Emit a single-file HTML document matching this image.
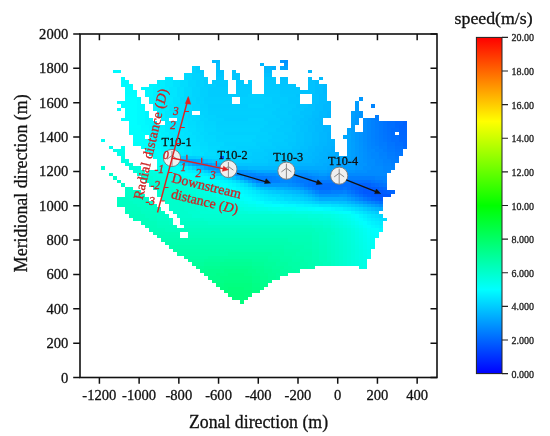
<!DOCTYPE html>
<html><head><meta charset="utf-8"><style>
html,body{margin:0;padding:0;background:#fff;}
svg{display:block;}
text{font-family:"Liberation Serif","Times New Roman",serif;stroke-width:0.3px;}
</style></head><body>
<svg width="550" height="436" viewBox="0 0 550 436">
<defs>
<linearGradient id="cb" x1="0" y1="1" x2="0" y2="0">
<stop offset="0" stop-color="#0000ff"/><stop offset="0.25" stop-color="#00ffff"/>
<stop offset="0.5" stop-color="#00ff00"/><stop offset="0.75" stop-color="#ffff00"/>
<stop offset="1" stop-color="#ff0000"/>
</linearGradient>
</defs>
<g shape-rendering="crispEdges"><rect x="212.25" y="59.5" width="7.94" height="3.44" fill="#00bbff"/><rect x="279.74" y="59.5" width="3.97" height="3.44" fill="#0096ff"/><rect x="283.71" y="59.5" width="3.97" height="3.44" fill="#0090ff"/><rect x="216.22" y="62.94" width="3.97" height="3.44" fill="#00bfff"/><rect x="259.89" y="62.94" width="3.97" height="3.44" fill="#00b5ff"/><rect x="283.71" y="62.94" width="3.97" height="3.44" fill="#0099ff"/><rect x="192.4" y="66.38" width="3.97" height="3.44" fill="#00d4ff"/><rect x="196.37" y="66.38" width="3.97" height="3.44" fill="#00cfff"/><rect x="216.22" y="66.38" width="3.97" height="3.44" fill="#00c2ff"/><rect x="263.86" y="66.38" width="7.94" height="3.44" fill="#00b7ff"/><rect x="271.8" y="66.38" width="3.97" height="3.44" fill="#00b0ff"/><rect x="279.74" y="66.38" width="3.97" height="3.44" fill="#00a7ff"/><rect x="283.71" y="66.38" width="3.97" height="3.44" fill="#00a2ff"/><rect x="113" y="69.82" width="7.94" height="3.44" fill="#00faff"/><rect x="192.4" y="69.82" width="3.97" height="3.44" fill="#00d4ff"/><rect x="196.37" y="69.82" width="3.97" height="3.44" fill="#00d0ff"/><rect x="200.34" y="69.82" width="3.97" height="3.44" fill="#00cbff"/><rect x="216.22" y="69.82" width="7.94" height="3.44" fill="#00c4ff"/><rect x="232.1" y="69.82" width="3.97" height="3.44" fill="#00c4ff"/><rect x="263.86" y="69.82" width="7.94" height="3.44" fill="#00bcff"/><rect x="307.53" y="69.82" width="3.97" height="3.44" fill="#00b7ff"/><rect x="184.46" y="73.26" width="7.94" height="3.44" fill="#00daff"/><rect x="192.4" y="73.26" width="7.94" height="3.44" fill="#00d4ff"/><rect x="200.34" y="73.26" width="3.97" height="3.44" fill="#00cdff"/><rect x="216.22" y="73.26" width="7.94" height="3.44" fill="#00c6ff"/><rect x="232.1" y="73.26" width="7.94" height="3.44" fill="#00c6ff"/><rect x="263.86" y="73.26" width="7.94" height="3.44" fill="#00c1ff"/><rect x="120.94" y="76.7" width="3.97" height="3.44" fill="#00faff"/><rect x="164.61" y="76.7" width="7.94" height="3.44" fill="#00e8ff"/><rect x="184.46" y="76.7" width="7.94" height="3.44" fill="#00d9ff"/><rect x="192.4" y="76.7" width="7.94" height="3.44" fill="#00d4ff"/><rect x="200.34" y="76.7" width="7.94" height="3.44" fill="#00cfff"/><rect x="216.22" y="76.7" width="7.94" height="3.44" fill="#00c9ff"/><rect x="232.1" y="76.7" width="7.94" height="3.44" fill="#00c7ff"/><rect x="263.86" y="76.7" width="11.91" height="3.44" fill="#00c6ff"/><rect x="279.74" y="76.7" width="7.94" height="3.44" fill="#00c0ff"/><rect x="307.53" y="76.7" width="3.97" height="3.44" fill="#00c0ff"/><rect x="319.44" y="76.7" width="3.97" height="3.44" fill="#00bbff"/><rect x="120.94" y="80.14" width="7.94" height="3.44" fill="#00faff"/><rect x="156.67" y="80.14" width="7.94" height="3.44" fill="#00eeff"/><rect x="164.61" y="80.14" width="7.94" height="3.44" fill="#00e8ff"/><rect x="172.55" y="80.14" width="7.94" height="3.44" fill="#00e2ff"/><rect x="180.49" y="80.14" width="7.94" height="3.44" fill="#00dcff"/><rect x="188.43" y="80.14" width="7.94" height="3.44" fill="#00d6ff"/><rect x="196.37" y="80.14" width="7.94" height="3.44" fill="#00d2ff"/><rect x="204.31" y="80.14" width="3.97" height="3.44" fill="#00ceff"/><rect x="212.25" y="80.14" width="15.88" height="3.44" fill="#00cbff"/><rect x="236.07" y="80.14" width="7.94" height="3.44" fill="#00c9ff"/><rect x="247.98" y="80.14" width="3.97" height="3.44" fill="#00ccff"/><rect x="263.86" y="80.14" width="11.91" height="3.44" fill="#00c8ff"/><rect x="279.74" y="80.14" width="7.94" height="3.44" fill="#00c4ff"/><rect x="307.53" y="80.14" width="7.94" height="3.44" fill="#00c2ff"/><rect x="315.47" y="80.14" width="3.97" height="3.44" fill="#00beff"/><rect x="120.94" y="83.58" width="11.91" height="3.44" fill="#00fbff"/><rect x="148.73" y="83.58" width="7.94" height="3.44" fill="#00f4ff"/><rect x="156.67" y="83.58" width="7.94" height="3.44" fill="#00eeff"/><rect x="164.61" y="83.58" width="7.94" height="3.44" fill="#00e8ff"/><rect x="172.55" y="83.58" width="7.94" height="3.44" fill="#00e2ff"/><rect x="180.49" y="83.58" width="7.94" height="3.44" fill="#00dcff"/><rect x="188.43" y="83.58" width="7.94" height="3.44" fill="#00d6ff"/><rect x="196.37" y="83.58" width="7.94" height="3.44" fill="#00d2ff"/><rect x="204.31" y="83.58" width="11.91" height="3.44" fill="#00ceff"/><rect x="216.22" y="83.58" width="11.91" height="3.44" fill="#00caff"/><rect x="236.07" y="83.58" width="15.88" height="3.44" fill="#00caff"/><rect x="263.86" y="83.58" width="15.88" height="3.44" fill="#00c9ff"/><rect x="279.74" y="83.58" width="15.88" height="3.44" fill="#00c5ff"/><rect x="307.53" y="83.58" width="7.94" height="3.44" fill="#00c2ff"/><rect x="315.47" y="83.58" width="7.94" height="3.44" fill="#00beff"/><rect x="323.41" y="83.58" width="3.97" height="3.44" fill="#00baff"/><rect x="124.91" y="87.02" width="7.94" height="3.44" fill="#00fcff"/><rect x="140.79" y="87.02" width="11.91" height="3.44" fill="#00f7ff"/><rect x="152.7" y="87.02" width="7.94" height="3.44" fill="#00f1ff"/><rect x="160.64" y="87.02" width="7.94" height="3.44" fill="#00ebff"/><rect x="168.58" y="87.02" width="7.94" height="3.44" fill="#00e5ff"/><rect x="176.52" y="87.02" width="7.94" height="3.44" fill="#00dfff"/><rect x="184.46" y="87.02" width="7.94" height="3.44" fill="#00d9ff"/><rect x="192.4" y="87.02" width="7.94" height="3.44" fill="#00d4ff"/><rect x="200.34" y="87.02" width="7.94" height="3.44" fill="#00d0ff"/><rect x="208.28" y="87.02" width="19.85" height="3.44" fill="#00ccff"/><rect x="236.07" y="87.02" width="15.88" height="3.44" fill="#00cbff"/><rect x="263.86" y="87.02" width="15.88" height="3.44" fill="#00caff"/><rect x="279.74" y="87.02" width="19.85" height="3.44" fill="#00c6ff"/><rect x="307.53" y="87.02" width="7.94" height="3.44" fill="#00c2ff"/><rect x="315.47" y="87.02" width="7.94" height="3.44" fill="#00beff"/><rect x="323.41" y="87.02" width="3.97" height="3.44" fill="#00baff"/><rect x="124.91" y="90.46" width="11.91" height="3.44" fill="#00fdff"/><rect x="144.76" y="90.46" width="7.94" height="3.44" fill="#00f6ff"/><rect x="152.7" y="90.46" width="7.94" height="3.44" fill="#00f1ff"/><rect x="160.64" y="90.46" width="7.94" height="3.44" fill="#00ebff"/><rect x="168.58" y="90.46" width="7.94" height="3.44" fill="#00e5ff"/><rect x="176.52" y="90.46" width="7.94" height="3.44" fill="#00dfff"/><rect x="184.46" y="90.46" width="7.94" height="3.44" fill="#00d9ff"/><rect x="192.4" y="90.46" width="7.94" height="3.44" fill="#00d4ff"/><rect x="200.34" y="90.46" width="7.94" height="3.44" fill="#00d0ff"/><rect x="208.28" y="90.46" width="19.85" height="3.44" fill="#00ccff"/><rect x="236.07" y="90.46" width="15.88" height="3.44" fill="#00ccff"/><rect x="263.86" y="90.46" width="15.88" height="3.44" fill="#00cbff"/><rect x="279.74" y="90.46" width="19.85" height="3.44" fill="#00c7ff"/><rect x="299.59" y="90.46" width="15.88" height="3.44" fill="#00c3ff"/><rect x="315.47" y="90.46" width="7.94" height="3.44" fill="#00beff"/><rect x="323.41" y="90.46" width="3.97" height="3.44" fill="#00baff"/><rect x="124.91" y="93.9" width="11.91" height="3.44" fill="#00feff"/><rect x="144.76" y="93.9" width="7.94" height="3.44" fill="#00f6ff"/><rect x="152.7" y="93.9" width="7.94" height="3.44" fill="#00f1ff"/><rect x="160.64" y="93.9" width="7.94" height="3.44" fill="#00ebff"/><rect x="168.58" y="93.9" width="7.94" height="3.44" fill="#00e5ff"/><rect x="176.52" y="93.9" width="7.94" height="3.44" fill="#00dfff"/><rect x="184.46" y="93.9" width="7.94" height="3.44" fill="#00d9ff"/><rect x="192.4" y="93.9" width="7.94" height="3.44" fill="#00d4ff"/><rect x="200.34" y="93.9" width="7.94" height="3.44" fill="#00d0ff"/><rect x="208.28" y="93.9" width="39.7" height="3.44" fill="#00ccff"/><rect x="247.98" y="93.9" width="15.88" height="3.44" fill="#00d0ff"/><rect x="263.86" y="93.9" width="15.88" height="3.44" fill="#00ccff"/><rect x="279.74" y="93.9" width="15.88" height="3.44" fill="#00c8ff"/><rect x="295.62" y="93.9" width="3.97" height="3.44" fill="#00c4ff"/><rect x="311.5" y="93.9" width="7.94" height="3.44" fill="#00c0ff"/><rect x="319.44" y="93.9" width="7.94" height="3.44" fill="#00bcff"/><rect x="124.91" y="97.34" width="11.91" height="3.44" fill="#00ffff"/><rect x="136.82" y="97.34" width="3.97" height="3.44" fill="#00faff"/><rect x="148.73" y="97.34" width="7.94" height="3.44" fill="#00f4ff"/><rect x="156.67" y="97.34" width="7.94" height="3.44" fill="#00eeff"/><rect x="164.61" y="97.34" width="7.94" height="3.44" fill="#00e8ff"/><rect x="172.55" y="97.34" width="7.94" height="3.44" fill="#00e2ff"/><rect x="180.49" y="97.34" width="7.94" height="3.44" fill="#00dcff"/><rect x="188.43" y="97.34" width="7.94" height="3.44" fill="#00d6ff"/><rect x="196.37" y="97.34" width="7.94" height="3.44" fill="#00d2ff"/><rect x="204.31" y="97.34" width="27.79" height="3.44" fill="#00ceff"/><rect x="240.04" y="97.34" width="31.76" height="3.44" fill="#00cfff"/><rect x="271.8" y="97.34" width="15.88" height="3.44" fill="#00cbff"/><rect x="287.68" y="97.34" width="11.91" height="3.44" fill="#00c7ff"/><rect x="311.5" y="97.34" width="7.94" height="3.44" fill="#00c0ff"/><rect x="319.44" y="97.34" width="7.94" height="3.44" fill="#00bcff"/><rect x="359.14" y="97.34" width="3.97" height="3.44" fill="#0097ff"/><rect x="116.97" y="100.78" width="19.85" height="3.44" fill="#00ffff"/><rect x="136.82" y="100.78" width="3.97" height="3.44" fill="#00fbff"/><rect x="148.73" y="100.78" width="7.94" height="3.44" fill="#00f4ff"/><rect x="156.67" y="100.78" width="7.94" height="3.44" fill="#00eeff"/><rect x="164.61" y="100.78" width="7.94" height="3.44" fill="#00e8ff"/><rect x="172.55" y="100.78" width="7.94" height="3.44" fill="#00e2ff"/><rect x="180.49" y="100.78" width="7.94" height="3.44" fill="#00dcff"/><rect x="188.43" y="100.78" width="7.94" height="3.44" fill="#00d7ff"/><rect x="196.37" y="100.78" width="7.94" height="3.44" fill="#00d3ff"/><rect x="204.31" y="100.78" width="27.79" height="3.44" fill="#00cfff"/><rect x="240.04" y="100.78" width="31.76" height="3.44" fill="#00cfff"/><rect x="271.8" y="100.78" width="15.88" height="3.44" fill="#00cbff"/><rect x="287.68" y="100.78" width="11.91" height="3.44" fill="#00c7ff"/><rect x="311.5" y="100.78" width="7.94" height="3.44" fill="#00bfff"/><rect x="319.44" y="100.78" width="7.94" height="3.44" fill="#00bbff"/><rect x="327.38" y="100.78" width="3.97" height="3.44" fill="#00b7ff"/><rect x="355.17" y="100.78" width="3.97" height="3.44" fill="#009dff"/><rect x="120.94" y="104.22" width="15.88" height="3.44" fill="#00ffff"/><rect x="136.82" y="104.22" width="7.94" height="3.44" fill="#00fbff"/><rect x="152.7" y="104.22" width="7.94" height="3.44" fill="#00f1ff"/><rect x="160.64" y="104.22" width="7.94" height="3.44" fill="#00ebff"/><rect x="168.58" y="104.22" width="7.94" height="3.44" fill="#00e5ff"/><rect x="176.52" y="104.22" width="7.94" height="3.44" fill="#00e0ff"/><rect x="184.46" y="104.22" width="7.94" height="3.44" fill="#00daff"/><rect x="192.4" y="104.22" width="7.94" height="3.44" fill="#00d5ff"/><rect x="200.34" y="104.22" width="7.94" height="3.44" fill="#00d1ff"/><rect x="208.28" y="104.22" width="39.7" height="3.44" fill="#00cdff"/><rect x="247.98" y="104.22" width="15.88" height="3.44" fill="#00d1ff"/><rect x="263.86" y="104.22" width="15.88" height="3.44" fill="#00cdff"/><rect x="279.74" y="104.22" width="15.88" height="3.44" fill="#00c9ff"/><rect x="295.62" y="104.22" width="11.91" height="3.44" fill="#00c4ff"/><rect x="307.53" y="104.22" width="7.94" height="3.44" fill="#00c0ff"/><rect x="315.47" y="104.22" width="7.94" height="3.44" fill="#00bcff"/><rect x="323.41" y="104.22" width="7.94" height="3.44" fill="#00b8ff"/><rect x="355.17" y="104.22" width="3.97" height="3.44" fill="#009cff"/><rect x="371.05" y="104.22" width="3.97" height="3.44" fill="#0084ff"/><rect x="116.97" y="107.66" width="3.97" height="3.44" fill="#00ffff"/><rect x="124.91" y="107.66" width="11.91" height="3.44" fill="#00ffff"/><rect x="136.82" y="107.66" width="7.94" height="3.44" fill="#00fbff"/><rect x="152.7" y="107.66" width="7.94" height="3.44" fill="#00f1ff"/><rect x="160.64" y="107.66" width="7.94" height="3.44" fill="#00ebff"/><rect x="168.58" y="107.66" width="7.94" height="3.44" fill="#00e5ff"/><rect x="176.52" y="107.66" width="7.94" height="3.44" fill="#00e0ff"/><rect x="184.46" y="107.66" width="7.94" height="3.44" fill="#00dbff"/><rect x="192.4" y="107.66" width="7.94" height="3.44" fill="#00d6ff"/><rect x="200.34" y="107.66" width="7.94" height="3.44" fill="#00d2ff"/><rect x="208.28" y="107.66" width="67.49" height="3.44" fill="#00ceff"/><rect x="275.77" y="107.66" width="15.88" height="3.44" fill="#00caff"/><rect x="291.65" y="107.66" width="11.91" height="3.44" fill="#00c6ff"/><rect x="303.56" y="107.66" width="11.91" height="3.44" fill="#00c1ff"/><rect x="315.47" y="107.66" width="7.94" height="3.44" fill="#00bcff"/><rect x="323.41" y="107.66" width="7.94" height="3.44" fill="#00b8ff"/><rect x="355.17" y="107.66" width="3.97" height="3.44" fill="#009bff"/><rect x="124.91" y="111.1" width="11.91" height="3.44" fill="#00ffff"/><rect x="136.82" y="111.1" width="7.94" height="3.44" fill="#00fbff"/><rect x="144.76" y="111.1" width="3.97" height="3.44" fill="#00f6ff"/><rect x="156.67" y="111.1" width="7.94" height="3.44" fill="#00eeff"/><rect x="164.61" y="111.1" width="7.94" height="3.44" fill="#00e8ff"/><rect x="172.55" y="111.1" width="7.94" height="3.44" fill="#00e3ff"/><rect x="180.49" y="111.1" width="7.94" height="3.44" fill="#00deff"/><rect x="188.43" y="111.1" width="3.97" height="3.44" fill="#00d9ff"/><rect x="200.34" y="111.1" width="7.94" height="3.44" fill="#00d3ff"/><rect x="208.28" y="111.1" width="63.52" height="3.44" fill="#00cfff"/><rect x="271.8" y="111.1" width="15.88" height="3.44" fill="#00cbff"/><rect x="287.68" y="111.1" width="11.91" height="3.44" fill="#00c7ff"/><rect x="299.59" y="111.1" width="11.91" height="3.44" fill="#00c2ff"/><rect x="311.5" y="111.1" width="7.94" height="3.44" fill="#00bdff"/><rect x="319.44" y="111.1" width="7.94" height="3.44" fill="#00b9ff"/><rect x="327.38" y="111.1" width="3.97" height="3.44" fill="#00b5ff"/><rect x="351.2" y="111.1" width="3.97" height="3.44" fill="#00a0ff"/><rect x="355.17" y="111.1" width="3.97" height="3.44" fill="#009aff"/><rect x="359.14" y="111.1" width="3.97" height="3.44" fill="#0094ff"/><rect x="124.91" y="114.54" width="11.91" height="3.44" fill="#00ffff"/><rect x="136.82" y="114.54" width="7.94" height="3.44" fill="#00fbff"/><rect x="144.76" y="114.54" width="3.97" height="3.44" fill="#00f6ff"/><rect x="156.67" y="114.54" width="7.94" height="3.44" fill="#00eeff"/><rect x="164.61" y="114.54" width="7.94" height="3.44" fill="#00e8ff"/><rect x="172.55" y="114.54" width="7.94" height="3.44" fill="#00e3ff"/><rect x="180.49" y="114.54" width="7.94" height="3.44" fill="#00dfff"/><rect x="188.43" y="114.54" width="7.94" height="3.44" fill="#00daff"/><rect x="196.37" y="114.54" width="7.94" height="3.44" fill="#00d6ff"/><rect x="204.31" y="114.54" width="11.91" height="3.44" fill="#00d2ff"/><rect x="216.22" y="114.54" width="59.55" height="3.44" fill="#00ceff"/><rect x="275.77" y="114.54" width="15.88" height="3.44" fill="#00caff"/><rect x="291.65" y="114.54" width="11.91" height="3.44" fill="#00c5ff"/><rect x="303.56" y="114.54" width="7.94" height="3.44" fill="#00c0ff"/><rect x="311.5" y="114.54" width="7.94" height="3.44" fill="#00bcff"/><rect x="319.44" y="114.54" width="7.94" height="3.44" fill="#00b8ff"/><rect x="327.38" y="114.54" width="3.97" height="3.44" fill="#00b4ff"/><rect x="351.2" y="114.54" width="3.97" height="3.44" fill="#009fff"/><rect x="355.17" y="114.54" width="3.97" height="3.44" fill="#0099ff"/><rect x="359.14" y="114.54" width="3.97" height="3.44" fill="#0093ff"/><rect x="375.02" y="114.54" width="3.97" height="3.44" fill="#007dff"/><rect x="120.94" y="117.98" width="15.88" height="3.44" fill="#00ffff"/><rect x="136.82" y="117.98" width="7.94" height="3.44" fill="#00fbff"/><rect x="144.76" y="117.98" width="7.94" height="3.44" fill="#00f6ff"/><rect x="160.64" y="117.98" width="7.94" height="3.44" fill="#00ebff"/><rect x="176.52" y="117.98" width="7.94" height="3.44" fill="#00e1ff"/><rect x="184.46" y="117.98" width="7.94" height="3.44" fill="#00ddff"/><rect x="192.4" y="117.98" width="7.94" height="3.44" fill="#00d9ff"/><rect x="200.34" y="117.98" width="7.94" height="3.44" fill="#00d5ff"/><rect x="208.28" y="117.98" width="15.88" height="3.44" fill="#00d1ff"/><rect x="224.16" y="117.98" width="23.82" height="3.44" fill="#00cdff"/><rect x="247.98" y="117.98" width="15.88" height="3.44" fill="#00d1ff"/><rect x="263.86" y="117.98" width="15.88" height="3.44" fill="#00cdff"/><rect x="279.74" y="117.98" width="11.91" height="3.44" fill="#00c9ff"/><rect x="291.65" y="117.98" width="7.94" height="3.44" fill="#00c5ff"/><rect x="299.59" y="117.98" width="7.94" height="3.44" fill="#00c1ff"/><rect x="307.53" y="117.98" width="7.94" height="3.44" fill="#00bdff"/><rect x="315.47" y="117.98" width="7.94" height="3.44" fill="#00b9ff"/><rect x="351.2" y="117.98" width="3.97" height="3.44" fill="#009eff"/><rect x="355.17" y="117.98" width="3.97" height="3.44" fill="#0098ff"/><rect x="363.11" y="117.98" width="3.97" height="3.44" fill="#008cff"/><rect x="367.08" y="117.98" width="3.97" height="3.44" fill="#0086ff"/><rect x="371.05" y="117.98" width="3.97" height="3.44" fill="#0081ff"/><rect x="375.02" y="117.98" width="3.97" height="3.44" fill="#007cff"/><rect x="128.88" y="121.42" width="7.94" height="3.44" fill="#00ffff"/><rect x="136.82" y="121.42" width="7.94" height="3.44" fill="#00fbff"/><rect x="144.76" y="121.42" width="7.94" height="3.44" fill="#00f7ff"/><rect x="152.7" y="121.42" width="3.97" height="3.44" fill="#00f2ff"/><rect x="164.61" y="121.42" width="7.94" height="3.44" fill="#00e9ff"/><rect x="172.55" y="121.42" width="7.94" height="3.44" fill="#00e4ff"/><rect x="180.49" y="121.42" width="7.94" height="3.44" fill="#00e0ff"/><rect x="188.43" y="121.42" width="7.94" height="3.44" fill="#00dcff"/><rect x="196.37" y="121.42" width="7.94" height="3.44" fill="#00d8ff"/><rect x="204.31" y="121.42" width="11.91" height="3.44" fill="#00d4ff"/><rect x="216.22" y="121.42" width="51.61" height="3.44" fill="#00d0ff"/><rect x="267.83" y="121.42" width="15.88" height="3.44" fill="#00ccff"/><rect x="283.71" y="121.42" width="11.91" height="3.44" fill="#00c8ff"/><rect x="295.62" y="121.42" width="7.94" height="3.44" fill="#00c3ff"/><rect x="303.56" y="121.42" width="7.94" height="3.44" fill="#00bfff"/><rect x="311.5" y="121.42" width="7.94" height="3.44" fill="#00bbff"/><rect x="319.44" y="121.42" width="3.97" height="3.44" fill="#00b7ff"/><rect x="351.2" y="121.42" width="3.97" height="3.44" fill="#009eff"/><rect x="355.17" y="121.42" width="3.97" height="3.44" fill="#0098ff"/><rect x="363.11" y="121.42" width="3.97" height="3.44" fill="#008cff"/><rect x="367.08" y="121.42" width="3.97" height="3.44" fill="#0086ff"/><rect x="371.05" y="121.42" width="3.97" height="3.44" fill="#0081ff"/><rect x="375.02" y="121.42" width="3.97" height="3.44" fill="#007cff"/><rect x="378.99" y="121.42" width="3.97" height="3.44" fill="#0077ff"/><rect x="382.96" y="121.42" width="3.97" height="3.44" fill="#0072ff"/><rect x="386.93" y="121.42" width="7.94" height="3.44" fill="#006dff"/><rect x="394.87" y="121.42" width="7.94" height="3.44" fill="#0067ff"/><rect x="402.81" y="121.42" width="3.97" height="3.44" fill="#0061ff"/><rect x="128.88" y="124.86" width="11.91" height="3.44" fill="#00fffe"/><rect x="140.79" y="124.86" width="7.94" height="3.44" fill="#00faff"/><rect x="148.73" y="124.86" width="7.94" height="3.44" fill="#00f6ff"/><rect x="156.67" y="124.86" width="7.94" height="3.44" fill="#00f0ff"/><rect x="164.61" y="124.86" width="7.94" height="3.44" fill="#00eaff"/><rect x="172.55" y="124.86" width="7.94" height="3.44" fill="#00e5ff"/><rect x="180.49" y="124.86" width="7.94" height="3.44" fill="#00e1ff"/><rect x="188.43" y="124.86" width="7.94" height="3.44" fill="#00ddff"/><rect x="196.37" y="124.86" width="7.94" height="3.44" fill="#00d9ff"/><rect x="204.31" y="124.86" width="11.91" height="3.44" fill="#00d5ff"/><rect x="216.22" y="124.86" width="47.64" height="3.44" fill="#00d1ff"/><rect x="263.86" y="124.86" width="15.88" height="3.44" fill="#00cdff"/><rect x="279.74" y="124.86" width="11.91" height="3.44" fill="#00c9ff"/><rect x="291.65" y="124.86" width="7.94" height="3.44" fill="#00c5ff"/><rect x="299.59" y="124.86" width="7.94" height="3.44" fill="#00c1ff"/><rect x="307.53" y="124.86" width="7.94" height="3.44" fill="#00bdff"/><rect x="315.47" y="124.86" width="7.94" height="3.44" fill="#00b9ff"/><rect x="323.41" y="124.86" width="7.94" height="3.44" fill="#00b5ff"/><rect x="351.2" y="124.86" width="3.97" height="3.44" fill="#009eff"/><rect x="363.11" y="124.86" width="3.97" height="3.44" fill="#008cff"/><rect x="367.08" y="124.86" width="3.97" height="3.44" fill="#0086ff"/><rect x="371.05" y="124.86" width="3.97" height="3.44" fill="#0081ff"/><rect x="375.02" y="124.86" width="3.97" height="3.44" fill="#007cff"/><rect x="378.99" y="124.86" width="3.97" height="3.44" fill="#0078ff"/><rect x="382.96" y="124.86" width="3.97" height="3.44" fill="#0073ff"/><rect x="386.93" y="124.86" width="7.94" height="3.44" fill="#006eff"/><rect x="394.87" y="124.86" width="3.97" height="3.44" fill="#0068ff"/><rect x="398.84" y="124.86" width="7.94" height="3.44" fill="#0064ff"/><rect x="128.88" y="128.3" width="11.91" height="3.44" fill="#00fffd"/><rect x="140.79" y="128.3" width="7.94" height="3.44" fill="#00fbff"/><rect x="148.73" y="128.3" width="7.94" height="3.44" fill="#00f7ff"/><rect x="156.67" y="128.3" width="7.94" height="3.44" fill="#00f1ff"/><rect x="164.61" y="128.3" width="7.94" height="3.44" fill="#00ebff"/><rect x="172.55" y="128.3" width="7.94" height="3.44" fill="#00e6ff"/><rect x="180.49" y="128.3" width="7.94" height="3.44" fill="#00e2ff"/><rect x="188.43" y="128.3" width="7.94" height="3.44" fill="#00deff"/><rect x="196.37" y="128.3" width="7.94" height="3.44" fill="#00daff"/><rect x="204.31" y="128.3" width="11.91" height="3.44" fill="#00d6ff"/><rect x="216.22" y="128.3" width="43.67" height="3.44" fill="#00d2ff"/><rect x="259.89" y="128.3" width="15.88" height="3.44" fill="#00ceff"/><rect x="275.77" y="128.3" width="15.88" height="3.44" fill="#00caff"/><rect x="291.65" y="128.3" width="7.94" height="3.44" fill="#00c5ff"/><rect x="299.59" y="128.3" width="7.94" height="3.44" fill="#00c1ff"/><rect x="307.53" y="128.3" width="7.94" height="3.44" fill="#00bdff"/><rect x="315.47" y="128.3" width="7.94" height="3.44" fill="#00b9ff"/><rect x="323.41" y="128.3" width="7.94" height="3.44" fill="#00b5ff"/><rect x="347.23" y="128.3" width="3.97" height="3.44" fill="#00a4ff"/><rect x="351.2" y="128.3" width="3.97" height="3.44" fill="#009eff"/><rect x="363.11" y="128.3" width="3.97" height="3.44" fill="#008cff"/><rect x="367.08" y="128.3" width="3.97" height="3.44" fill="#0086ff"/><rect x="371.05" y="128.3" width="3.97" height="3.44" fill="#0081ff"/><rect x="375.02" y="128.3" width="3.97" height="3.44" fill="#007dff"/><rect x="378.99" y="128.3" width="3.97" height="3.44" fill="#0078ff"/><rect x="382.96" y="128.3" width="3.97" height="3.44" fill="#0073ff"/><rect x="386.93" y="128.3" width="3.97" height="3.44" fill="#006fff"/><rect x="390.9" y="128.3" width="7.94" height="3.44" fill="#006bff"/><rect x="398.84" y="128.3" width="7.94" height="3.44" fill="#0065ff"/><rect x="128.88" y="131.74" width="15.88" height="3.44" fill="#00fffc"/><rect x="144.76" y="131.74" width="7.94" height="3.44" fill="#00faff"/><rect x="152.7" y="131.74" width="7.94" height="3.44" fill="#00f5ff"/><rect x="160.64" y="131.74" width="7.94" height="3.44" fill="#00efff"/><rect x="168.58" y="131.74" width="7.94" height="3.44" fill="#00e9ff"/><rect x="176.52" y="131.74" width="7.94" height="3.44" fill="#00e5ff"/><rect x="184.46" y="131.74" width="7.94" height="3.44" fill="#00e1ff"/><rect x="192.4" y="131.74" width="7.94" height="3.44" fill="#00dcff"/><rect x="200.34" y="131.74" width="7.94" height="3.44" fill="#00d8ff"/><rect x="208.28" y="131.74" width="15.88" height="3.44" fill="#00d4ff"/><rect x="224.16" y="131.74" width="43.67" height="3.44" fill="#00d0ff"/><rect x="267.83" y="131.74" width="15.88" height="3.44" fill="#00ccff"/><rect x="283.71" y="131.74" width="11.91" height="3.44" fill="#00c8ff"/><rect x="295.62" y="131.74" width="7.94" height="3.44" fill="#00c3ff"/><rect x="303.56" y="131.74" width="7.94" height="3.44" fill="#00bfff"/><rect x="311.5" y="131.74" width="7.94" height="3.44" fill="#00bbff"/><rect x="319.44" y="131.74" width="7.94" height="3.44" fill="#00b7ff"/><rect x="327.38" y="131.74" width="3.97" height="3.44" fill="#00b3ff"/><rect x="347.23" y="131.74" width="3.97" height="3.44" fill="#00a4ff"/><rect x="351.2" y="131.74" width="3.97" height="3.44" fill="#009eff"/><rect x="355.17" y="131.74" width="3.97" height="3.44" fill="#0098ff"/><rect x="359.14" y="131.74" width="3.97" height="3.44" fill="#0092ff"/><rect x="363.11" y="131.74" width="3.97" height="3.44" fill="#008cff"/><rect x="367.08" y="131.74" width="3.97" height="3.44" fill="#0086ff"/><rect x="371.05" y="131.74" width="3.97" height="3.44" fill="#0081ff"/><rect x="375.02" y="131.74" width="3.97" height="3.44" fill="#007dff"/><rect x="378.99" y="131.74" width="3.97" height="3.44" fill="#0078ff"/><rect x="382.96" y="131.74" width="3.97" height="3.44" fill="#0074ff"/><rect x="386.93" y="131.74" width="3.97" height="3.44" fill="#0070ff"/><rect x="390.9" y="131.74" width="3.97" height="3.44" fill="#006cff"/><rect x="398.84" y="131.74" width="7.94" height="3.44" fill="#0066ff"/><rect x="132.85" y="135.18" width="11.91" height="3.44" fill="#00fffd"/><rect x="148.73" y="135.18" width="7.94" height="3.44" fill="#00f9ff"/><rect x="156.67" y="135.18" width="7.94" height="3.44" fill="#00f2ff"/><rect x="164.61" y="135.18" width="7.94" height="3.44" fill="#00ecff"/><rect x="172.55" y="135.18" width="7.94" height="3.44" fill="#00e7ff"/><rect x="180.49" y="135.18" width="7.94" height="3.44" fill="#00e3ff"/><rect x="188.43" y="135.18" width="7.94" height="3.44" fill="#00dfff"/><rect x="196.37" y="135.18" width="7.94" height="3.44" fill="#00dbff"/><rect x="204.31" y="135.18" width="11.91" height="3.44" fill="#00d7ff"/><rect x="216.22" y="135.18" width="39.7" height="3.44" fill="#00d3ff"/><rect x="255.92" y="135.18" width="15.88" height="3.44" fill="#00cfff"/><rect x="271.8" y="135.18" width="15.88" height="3.44" fill="#00cbff"/><rect x="287.68" y="135.18" width="7.94" height="3.44" fill="#00c7ff"/><rect x="295.62" y="135.18" width="7.94" height="3.44" fill="#00c3ff"/><rect x="303.56" y="135.18" width="7.94" height="3.44" fill="#00bfff"/><rect x="311.5" y="135.18" width="7.94" height="3.44" fill="#00bbff"/><rect x="319.44" y="135.18" width="7.94" height="3.44" fill="#00b7ff"/><rect x="327.38" y="135.18" width="3.97" height="3.44" fill="#00b3ff"/><rect x="343.26" y="135.18" width="7.94" height="3.44" fill="#00a7ff"/><rect x="351.2" y="135.18" width="3.97" height="3.44" fill="#009eff"/><rect x="355.17" y="135.18" width="3.97" height="3.44" fill="#0098ff"/><rect x="359.14" y="135.18" width="3.97" height="3.44" fill="#0092ff"/><rect x="363.11" y="135.18" width="3.97" height="3.44" fill="#008cff"/><rect x="367.08" y="135.18" width="3.97" height="3.44" fill="#0086ff"/><rect x="371.05" y="135.18" width="3.97" height="3.44" fill="#0081ff"/><rect x="375.02" y="135.18" width="3.97" height="3.44" fill="#007dff"/><rect x="378.99" y="135.18" width="3.97" height="3.44" fill="#0079ff"/><rect x="382.96" y="135.18" width="3.97" height="3.44" fill="#0075ff"/><rect x="386.93" y="135.18" width="3.97" height="3.44" fill="#0071ff"/><rect x="390.9" y="135.18" width="7.94" height="3.44" fill="#006dff"/><rect x="398.84" y="135.18" width="7.94" height="3.44" fill="#0067ff"/><rect x="101.09" y="138.62" width="3.97" height="3.44" fill="#00fff4"/><rect x="132.85" y="138.62" width="15.88" height="3.44" fill="#00fffc"/><rect x="148.73" y="138.62" width="7.94" height="3.44" fill="#00faff"/><rect x="156.67" y="138.62" width="7.94" height="3.44" fill="#00f4ff"/><rect x="164.61" y="138.62" width="7.94" height="3.44" fill="#00edff"/><rect x="172.55" y="138.62" width="7.94" height="3.44" fill="#00e8ff"/><rect x="180.49" y="138.62" width="7.94" height="3.44" fill="#00e4ff"/><rect x="188.43" y="138.62" width="7.94" height="3.44" fill="#00e0ff"/><rect x="196.37" y="138.62" width="7.94" height="3.44" fill="#00dcff"/><rect x="204.31" y="138.62" width="11.91" height="3.44" fill="#00d8ff"/><rect x="216.22" y="138.62" width="35.73" height="3.44" fill="#00d4ff"/><rect x="251.95" y="138.62" width="15.88" height="3.44" fill="#00d0ff"/><rect x="267.83" y="138.62" width="15.88" height="3.44" fill="#00ccff"/><rect x="283.71" y="138.62" width="11.91" height="3.44" fill="#00c8ff"/><rect x="295.62" y="138.62" width="7.94" height="3.44" fill="#00c3ff"/><rect x="303.56" y="138.62" width="7.94" height="3.44" fill="#00bfff"/><rect x="311.5" y="138.62" width="7.94" height="3.44" fill="#00bbff"/><rect x="319.44" y="138.62" width="7.94" height="3.44" fill="#00b7ff"/><rect x="327.38" y="138.62" width="7.94" height="3.44" fill="#00b3ff"/><rect x="347.23" y="138.62" width="3.97" height="3.44" fill="#00a4ff"/><rect x="351.2" y="138.62" width="3.97" height="3.44" fill="#009eff"/><rect x="355.17" y="138.62" width="3.97" height="3.44" fill="#0098ff"/><rect x="359.14" y="138.62" width="3.97" height="3.44" fill="#0092ff"/><rect x="363.11" y="138.62" width="3.97" height="3.44" fill="#008cff"/><rect x="367.08" y="138.62" width="3.97" height="3.44" fill="#0086ff"/><rect x="371.05" y="138.62" width="3.97" height="3.44" fill="#0082ff"/><rect x="375.02" y="138.62" width="3.97" height="3.44" fill="#007eff"/><rect x="378.99" y="138.62" width="3.97" height="3.44" fill="#007aff"/><rect x="382.96" y="138.62" width="3.97" height="3.44" fill="#0076ff"/><rect x="386.93" y="138.62" width="3.97" height="3.44" fill="#0072ff"/><rect x="390.9" y="138.62" width="7.94" height="3.44" fill="#006eff"/><rect x="398.84" y="138.62" width="7.94" height="3.44" fill="#0068ff"/><rect x="132.85" y="142.06" width="7.94" height="3.44" fill="#00fff9"/><rect x="140.79" y="142.06" width="11.91" height="3.44" fill="#00fffd"/><rect x="152.7" y="142.06" width="7.94" height="3.44" fill="#00faff"/><rect x="160.64" y="142.06" width="7.94" height="3.44" fill="#00f3ff"/><rect x="168.58" y="142.06" width="7.94" height="3.44" fill="#00edff"/><rect x="176.52" y="142.06" width="7.94" height="3.44" fill="#00e8ff"/><rect x="184.46" y="142.06" width="7.94" height="3.44" fill="#00e4ff"/><rect x="192.4" y="142.06" width="7.94" height="3.44" fill="#00dfff"/><rect x="200.34" y="142.06" width="7.94" height="3.44" fill="#00dbff"/><rect x="208.28" y="142.06" width="15.88" height="3.44" fill="#00d7ff"/><rect x="224.16" y="142.06" width="31.76" height="3.44" fill="#00d2ff"/><rect x="255.92" y="142.06" width="15.88" height="3.44" fill="#00ceff"/><rect x="271.8" y="142.06" width="15.88" height="3.44" fill="#00caff"/><rect x="287.68" y="142.06" width="7.94" height="3.44" fill="#00c6ff"/><rect x="295.62" y="142.06" width="7.94" height="3.44" fill="#00c2ff"/><rect x="303.56" y="142.06" width="7.94" height="3.44" fill="#00beff"/><rect x="311.5" y="142.06" width="7.94" height="3.44" fill="#00baff"/><rect x="319.44" y="142.06" width="7.94" height="3.44" fill="#00b6ff"/><rect x="327.38" y="142.06" width="7.94" height="3.44" fill="#00b2ff"/><rect x="347.23" y="142.06" width="3.97" height="3.44" fill="#00a4ff"/><rect x="351.2" y="142.06" width="3.97" height="3.44" fill="#009fff"/><rect x="355.17" y="142.06" width="3.97" height="3.44" fill="#0099ff"/><rect x="359.14" y="142.06" width="3.97" height="3.44" fill="#0093ff"/><rect x="363.11" y="142.06" width="3.97" height="3.44" fill="#008dff"/><rect x="367.08" y="142.06" width="3.97" height="3.44" fill="#0087ff"/><rect x="371.05" y="142.06" width="3.97" height="3.44" fill="#0083ff"/><rect x="375.02" y="142.06" width="3.97" height="3.44" fill="#007fff"/><rect x="378.99" y="142.06" width="7.94" height="3.44" fill="#007bff"/><rect x="386.93" y="142.06" width="7.94" height="3.44" fill="#0074ff"/><rect x="394.87" y="142.06" width="7.94" height="3.44" fill="#006eff"/><rect x="402.81" y="142.06" width="3.97" height="3.44" fill="#0068ff"/><rect x="109.03" y="145.5" width="3.97" height="3.44" fill="#00ffee"/><rect x="120.94" y="145.5" width="3.97" height="3.44" fill="#00fff1"/><rect x="140.79" y="145.5" width="7.94" height="3.44" fill="#00fff9"/><rect x="148.73" y="145.5" width="7.94" height="3.44" fill="#00fffd"/><rect x="156.67" y="145.5" width="3.97" height="3.44" fill="#00faff"/><rect x="160.64" y="145.5" width="7.94" height="3.44" fill="#00f6ff"/><rect x="168.58" y="145.5" width="7.94" height="3.44" fill="#00efff"/><rect x="176.52" y="145.5" width="7.94" height="3.44" fill="#00eaff"/><rect x="184.46" y="145.5" width="7.94" height="3.44" fill="#00e5ff"/><rect x="192.4" y="145.5" width="7.94" height="3.44" fill="#00e1ff"/><rect x="200.34" y="145.5" width="7.94" height="3.44" fill="#00ddff"/><rect x="208.28" y="145.5" width="11.91" height="3.44" fill="#00d9ff"/><rect x="220.19" y="145.5" width="15.88" height="3.44" fill="#00d4ff"/><rect x="236.07" y="145.5" width="23.82" height="3.44" fill="#00d0ff"/><rect x="259.89" y="145.5" width="15.88" height="3.44" fill="#00ccff"/><rect x="275.77" y="145.5" width="15.88" height="3.44" fill="#00c8ff"/><rect x="291.65" y="145.5" width="7.94" height="3.44" fill="#00c3ff"/><rect x="299.59" y="145.5" width="7.94" height="3.44" fill="#00bfff"/><rect x="307.53" y="145.5" width="7.94" height="3.44" fill="#00baff"/><rect x="315.47" y="145.5" width="7.94" height="3.44" fill="#00b6ff"/><rect x="323.41" y="145.5" width="7.94" height="3.44" fill="#00b2ff"/><rect x="331.35" y="145.5" width="3.97" height="3.44" fill="#00aeff"/><rect x="347.23" y="145.5" width="3.97" height="3.44" fill="#00a4ff"/><rect x="351.2" y="145.5" width="3.97" height="3.44" fill="#009fff"/><rect x="355.17" y="145.5" width="3.97" height="3.44" fill="#0099ff"/><rect x="359.14" y="145.5" width="3.97" height="3.44" fill="#0094ff"/><rect x="363.11" y="145.5" width="3.97" height="3.44" fill="#008eff"/><rect x="367.08" y="145.5" width="3.97" height="3.44" fill="#0088ff"/><rect x="371.05" y="145.5" width="7.94" height="3.44" fill="#0084ff"/><rect x="378.99" y="145.5" width="7.94" height="3.44" fill="#007dff"/><rect x="386.93" y="145.5" width="7.94" height="3.44" fill="#0076ff"/><rect x="394.87" y="145.5" width="7.94" height="3.44" fill="#0071ff"/><rect x="402.81" y="145.5" width="3.97" height="3.44" fill="#006cff"/><rect x="113" y="148.94" width="11.91" height="3.44" fill="#00ffeb"/><rect x="144.76" y="148.94" width="7.94" height="3.44" fill="#00fff8"/><rect x="152.7" y="148.94" width="7.94" height="3.44" fill="#00fffe"/><rect x="160.64" y="148.94" width="3.97" height="3.44" fill="#00f9ff"/><rect x="164.61" y="148.94" width="3.97" height="3.44" fill="#00f5ff"/><rect x="168.58" y="148.94" width="7.94" height="3.44" fill="#00f1ff"/><rect x="176.52" y="148.94" width="7.94" height="3.44" fill="#00ecff"/><rect x="184.46" y="148.94" width="7.94" height="3.44" fill="#00e6ff"/><rect x="192.4" y="148.94" width="7.94" height="3.44" fill="#00e2ff"/><rect x="200.34" y="148.94" width="7.94" height="3.44" fill="#00deff"/><rect x="208.28" y="148.94" width="7.94" height="3.44" fill="#00daff"/><rect x="216.22" y="148.94" width="11.91" height="3.44" fill="#00d6ff"/><rect x="228.13" y="148.94" width="19.85" height="3.44" fill="#00d1ff"/><rect x="247.98" y="148.94" width="15.88" height="3.44" fill="#00cdff"/><rect x="263.86" y="148.94" width="15.88" height="3.44" fill="#00c9ff"/><rect x="279.74" y="148.94" width="11.91" height="3.44" fill="#00c5ff"/><rect x="291.65" y="148.94" width="7.94" height="3.44" fill="#00c1ff"/><rect x="299.59" y="148.94" width="7.94" height="3.44" fill="#00bdff"/><rect x="307.53" y="148.94" width="7.94" height="3.44" fill="#00b9ff"/><rect x="315.47" y="148.94" width="7.94" height="3.44" fill="#00b5ff"/><rect x="323.41" y="148.94" width="7.94" height="3.44" fill="#00b1ff"/><rect x="331.35" y="148.94" width="3.97" height="3.44" fill="#00adff"/><rect x="347.23" y="148.94" width="3.97" height="3.44" fill="#00a4ff"/><rect x="351.2" y="148.94" width="3.97" height="3.44" fill="#009fff"/><rect x="355.17" y="148.94" width="3.97" height="3.44" fill="#009aff"/><rect x="359.14" y="148.94" width="3.97" height="3.44" fill="#0094ff"/><rect x="363.11" y="148.94" width="3.97" height="3.44" fill="#008fff"/><rect x="367.08" y="148.94" width="7.94" height="3.44" fill="#0089ff"/><rect x="375.02" y="148.94" width="7.94" height="3.44" fill="#0082ff"/><rect x="382.96" y="148.94" width="3.97" height="3.44" fill="#007cff"/><rect x="386.93" y="148.94" width="7.94" height="3.44" fill="#0078ff"/><rect x="394.87" y="148.94" width="7.94" height="3.44" fill="#0073ff"/><rect x="116.97" y="152.38" width="7.94" height="3.44" fill="#00ffe9"/><rect x="148.73" y="152.38" width="3.97" height="3.44" fill="#00fff6"/><rect x="152.7" y="152.38" width="3.97" height="3.44" fill="#00fffa"/><rect x="156.67" y="152.38" width="7.94" height="3.44" fill="#00fffe"/><rect x="164.61" y="152.38" width="3.97" height="3.44" fill="#00f8ff"/><rect x="168.58" y="152.38" width="3.97" height="3.44" fill="#00f4ff"/><rect x="172.55" y="152.38" width="3.97" height="3.44" fill="#00eeff"/><rect x="176.52" y="152.38" width="7.94" height="3.44" fill="#00eaff"/><rect x="184.46" y="152.38" width="7.94" height="3.44" fill="#00e5ff"/><rect x="192.4" y="152.38" width="11.91" height="3.44" fill="#00e1ff"/><rect x="204.31" y="152.38" width="11.91" height="3.44" fill="#00dcff"/><rect x="216.22" y="152.38" width="7.94" height="3.44" fill="#00d7ff"/><rect x="224.16" y="152.38" width="11.91" height="3.44" fill="#00d3ff"/><rect x="236.07" y="152.38" width="15.88" height="3.44" fill="#00cfff"/><rect x="251.95" y="152.38" width="15.88" height="3.44" fill="#00cbff"/><rect x="267.83" y="152.38" width="15.88" height="3.44" fill="#00c7ff"/><rect x="283.71" y="152.38" width="11.91" height="3.44" fill="#00c3ff"/><rect x="295.62" y="152.38" width="7.94" height="3.44" fill="#00beff"/><rect x="303.56" y="152.38" width="7.94" height="3.44" fill="#00baff"/><rect x="311.5" y="152.38" width="7.94" height="3.44" fill="#00b6ff"/><rect x="319.44" y="152.38" width="7.94" height="3.44" fill="#00b2ff"/><rect x="327.38" y="152.38" width="7.94" height="3.44" fill="#00aeff"/><rect x="335.32" y="152.38" width="3.97" height="3.44" fill="#00aaff"/><rect x="347.23" y="152.38" width="3.97" height="3.44" fill="#00a4ff"/><rect x="351.2" y="152.38" width="3.97" height="3.44" fill="#009fff"/><rect x="355.17" y="152.38" width="3.97" height="3.44" fill="#009aff"/><rect x="359.14" y="152.38" width="3.97" height="3.44" fill="#0095ff"/><rect x="363.11" y="152.38" width="3.97" height="3.44" fill="#0090ff"/><rect x="367.08" y="152.38" width="3.97" height="3.44" fill="#008bff"/><rect x="371.05" y="152.38" width="7.94" height="3.44" fill="#0087ff"/><rect x="378.99" y="152.38" width="7.94" height="3.44" fill="#0081ff"/><rect x="386.93" y="152.38" width="7.94" height="3.44" fill="#007bff"/><rect x="394.87" y="152.38" width="7.94" height="3.44" fill="#0076ff"/><rect x="120.94" y="155.82" width="3.97" height="3.44" fill="#00ffe5"/><rect x="152.7" y="155.82" width="3.97" height="3.44" fill="#00fff6"/><rect x="156.67" y="155.82" width="3.97" height="3.44" fill="#00fffa"/><rect x="160.64" y="155.82" width="7.94" height="3.44" fill="#00fffe"/><rect x="168.58" y="155.82" width="3.97" height="3.44" fill="#00f8ff"/><rect x="172.55" y="155.82" width="3.97" height="3.44" fill="#00e0ff"/><rect x="176.52" y="155.82" width="11.91" height="3.44" fill="#00c9ff"/><rect x="188.43" y="155.82" width="7.94" height="3.44" fill="#00ceff"/><rect x="196.37" y="155.82" width="7.94" height="3.44" fill="#00d2ff"/><rect x="204.31" y="155.82" width="19.85" height="3.44" fill="#00d8ff"/><rect x="224.16" y="155.82" width="11.91" height="3.44" fill="#00d3ff"/><rect x="236.07" y="155.82" width="11.91" height="3.44" fill="#00cfff"/><rect x="247.98" y="155.82" width="15.88" height="3.44" fill="#00cbff"/><rect x="263.86" y="155.82" width="15.88" height="3.44" fill="#00c7ff"/><rect x="279.74" y="155.82" width="11.91" height="3.44" fill="#00c3ff"/><rect x="291.65" y="155.82" width="7.94" height="3.44" fill="#00bfff"/><rect x="299.59" y="155.82" width="7.94" height="3.44" fill="#00bbff"/><rect x="307.53" y="155.82" width="7.94" height="3.44" fill="#00b7ff"/><rect x="315.47" y="155.82" width="7.94" height="3.44" fill="#00b3ff"/><rect x="323.41" y="155.82" width="7.94" height="3.44" fill="#00afff"/><rect x="331.35" y="155.82" width="7.94" height="3.44" fill="#00abff"/><rect x="339.29" y="155.82" width="7.94" height="3.44" fill="#00a7ff"/><rect x="347.23" y="155.82" width="3.97" height="3.44" fill="#00a3ff"/><rect x="351.2" y="155.82" width="3.97" height="3.44" fill="#009eff"/><rect x="355.17" y="155.82" width="3.97" height="3.44" fill="#009aff"/><rect x="359.14" y="155.82" width="3.97" height="3.44" fill="#0095ff"/><rect x="363.11" y="155.82" width="3.97" height="3.44" fill="#0090ff"/><rect x="367.08" y="155.82" width="3.97" height="3.44" fill="#008cff"/><rect x="371.05" y="155.82" width="7.94" height="3.44" fill="#0088ff"/><rect x="378.99" y="155.82" width="7.94" height="3.44" fill="#0083ff"/><rect x="386.93" y="155.82" width="7.94" height="3.44" fill="#007dff"/><rect x="394.87" y="155.82" width="3.97" height="3.44" fill="#0079ff"/><rect x="120.94" y="159.26" width="7.94" height="3.44" fill="#00ffe1"/><rect x="156.67" y="159.26" width="3.97" height="3.44" fill="#00fff5"/><rect x="160.64" y="159.26" width="3.97" height="3.44" fill="#00fffa"/><rect x="164.61" y="159.26" width="7.94" height="3.44" fill="#00fffe"/><rect x="172.55" y="159.26" width="3.97" height="3.44" fill="#00ecff"/><rect x="176.52" y="159.26" width="3.97" height="3.44" fill="#00c3ff"/><rect x="180.49" y="159.26" width="3.97" height="3.44" fill="#00a9ff"/><rect x="184.46" y="159.26" width="11.91" height="3.44" fill="#00a3ff"/><rect x="196.37" y="159.26" width="3.97" height="3.44" fill="#00a9ff"/><rect x="200.34" y="159.26" width="3.97" height="3.44" fill="#00b2ff"/><rect x="204.31" y="159.26" width="3.97" height="3.44" fill="#00beff"/><rect x="208.28" y="159.26" width="3.97" height="3.44" fill="#00c6ff"/><rect x="212.25" y="159.26" width="7.94" height="3.44" fill="#00ccff"/><rect x="220.19" y="159.26" width="15.88" height="3.44" fill="#00d1ff"/><rect x="236.07" y="159.26" width="15.88" height="3.44" fill="#00cdff"/><rect x="251.95" y="159.26" width="15.88" height="3.44" fill="#00c9ff"/><rect x="267.83" y="159.26" width="15.88" height="3.44" fill="#00c4ff"/><rect x="283.71" y="159.26" width="7.94" height="3.44" fill="#00c0ff"/><rect x="291.65" y="159.26" width="7.94" height="3.44" fill="#00bcff"/><rect x="299.59" y="159.26" width="11.91" height="3.44" fill="#00b8ff"/><rect x="311.5" y="159.26" width="7.94" height="3.44" fill="#00b3ff"/><rect x="319.44" y="159.26" width="7.94" height="3.44" fill="#00afff"/><rect x="327.38" y="159.26" width="7.94" height="3.44" fill="#00abff"/><rect x="335.32" y="159.26" width="7.94" height="3.44" fill="#00a7ff"/><rect x="343.26" y="159.26" width="7.94" height="3.44" fill="#00a3ff"/><rect x="351.2" y="159.26" width="3.97" height="3.44" fill="#009dff"/><rect x="355.17" y="159.26" width="3.97" height="3.44" fill="#0099ff"/><rect x="359.14" y="159.26" width="3.97" height="3.44" fill="#0095ff"/><rect x="363.11" y="159.26" width="3.97" height="3.44" fill="#0091ff"/><rect x="367.08" y="159.26" width="7.94" height="3.44" fill="#008dff"/><rect x="375.02" y="159.26" width="7.94" height="3.44" fill="#0087ff"/><rect x="382.96" y="159.26" width="7.94" height="3.44" fill="#0082ff"/><rect x="390.9" y="159.26" width="7.94" height="3.44" fill="#007dff"/><rect x="124.91" y="162.7" width="7.94" height="3.44" fill="#00ffdd"/><rect x="156.67" y="162.7" width="3.97" height="3.44" fill="#00fff1"/><rect x="160.64" y="162.7" width="3.97" height="3.44" fill="#00fff5"/><rect x="164.61" y="162.7" width="3.97" height="3.44" fill="#00fff9"/><rect x="168.58" y="162.7" width="7.94" height="3.44" fill="#00fffd"/><rect x="176.52" y="162.7" width="3.97" height="3.44" fill="#00f0ff"/><rect x="180.49" y="162.7" width="3.97" height="3.44" fill="#00dcff"/><rect x="184.46" y="162.7" width="3.97" height="3.44" fill="#00c7ff"/><rect x="188.43" y="162.7" width="3.97" height="3.44" fill="#00b3ff"/><rect x="192.4" y="162.7" width="3.97" height="3.44" fill="#00a3ff"/><rect x="196.37" y="162.7" width="3.97" height="3.44" fill="#0097ff"/><rect x="200.34" y="162.7" width="7.94" height="3.44" fill="#0093ff"/><rect x="208.28" y="162.7" width="3.97" height="3.44" fill="#009eff"/><rect x="212.25" y="162.7" width="3.97" height="3.44" fill="#00a9ff"/><rect x="216.22" y="162.7" width="3.97" height="3.44" fill="#00b3ff"/><rect x="220.19" y="162.7" width="3.97" height="3.44" fill="#00bbff"/><rect x="224.16" y="162.7" width="3.97" height="3.44" fill="#00c1ff"/><rect x="228.13" y="162.7" width="39.7" height="3.44" fill="#00c5ff"/><rect x="267.83" y="162.7" width="11.91" height="3.44" fill="#00c1ff"/><rect x="279.74" y="162.7" width="11.91" height="3.44" fill="#00bdff"/><rect x="291.65" y="162.7" width="7.94" height="3.44" fill="#00b8ff"/><rect x="299.59" y="162.7" width="15.88" height="3.44" fill="#00b3ff"/><rect x="315.47" y="162.7" width="7.94" height="3.44" fill="#00afff"/><rect x="323.41" y="162.7" width="7.94" height="3.44" fill="#00abff"/><rect x="331.35" y="162.7" width="7.94" height="3.44" fill="#00a7ff"/><rect x="339.29" y="162.7" width="7.94" height="3.44" fill="#00a2ff"/><rect x="347.23" y="162.7" width="7.94" height="3.44" fill="#009eff"/><rect x="355.17" y="162.7" width="3.97" height="3.44" fill="#0098ff"/><rect x="359.14" y="162.7" width="7.94" height="3.44" fill="#0094ff"/><rect x="367.08" y="162.7" width="7.94" height="3.44" fill="#008dff"/><rect x="375.02" y="162.7" width="7.94" height="3.44" fill="#0088ff"/><rect x="382.96" y="162.7" width="7.94" height="3.44" fill="#0084ff"/><rect x="390.9" y="162.7" width="3.97" height="3.44" fill="#0080ff"/><rect x="101.09" y="166.14" width="3.97" height="3.44" fill="#00ffd4"/><rect x="128.88" y="166.14" width="7.94" height="3.44" fill="#00ffda"/><rect x="136.82" y="166.14" width="3.97" height="3.44" fill="#00ffde"/><rect x="156.67" y="166.14" width="3.97" height="3.44" fill="#00ffec"/><rect x="160.64" y="166.14" width="3.97" height="3.44" fill="#00fff0"/><rect x="164.61" y="166.14" width="3.97" height="3.44" fill="#00fff4"/><rect x="168.58" y="166.14" width="3.97" height="3.44" fill="#00fff8"/><rect x="172.55" y="166.14" width="7.94" height="3.44" fill="#00fffd"/><rect x="180.49" y="166.14" width="3.97" height="3.44" fill="#00f6ff"/><rect x="184.46" y="166.14" width="3.97" height="3.44" fill="#00eeff"/><rect x="188.43" y="166.14" width="3.97" height="3.44" fill="#00e2ff"/><rect x="192.4" y="166.14" width="3.97" height="3.44" fill="#00d3ff"/><rect x="196.37" y="166.14" width="3.97" height="3.44" fill="#00c2ff"/><rect x="200.34" y="166.14" width="3.97" height="3.44" fill="#00b0ff"/><rect x="204.31" y="166.14" width="3.97" height="3.44" fill="#00a0ff"/><rect x="208.28" y="166.14" width="3.97" height="3.44" fill="#0095ff"/><rect x="212.25" y="166.14" width="7.94" height="3.44" fill="#0090ff"/><rect x="220.19" y="166.14" width="3.97" height="3.44" fill="#0096ff"/><rect x="224.16" y="166.14" width="3.97" height="3.44" fill="#009fff"/><rect x="228.13" y="166.14" width="3.97" height="3.44" fill="#00a7ff"/><rect x="232.1" y="166.14" width="3.97" height="3.44" fill="#00adff"/><rect x="236.07" y="166.14" width="3.97" height="3.44" fill="#00b1ff"/><rect x="240.04" y="166.14" width="7.94" height="3.44" fill="#00b5ff"/><rect x="247.98" y="166.14" width="31.76" height="3.44" fill="#00b9ff"/><rect x="279.74" y="166.14" width="11.91" height="3.44" fill="#00b5ff"/><rect x="291.65" y="166.14" width="7.94" height="3.44" fill="#00aeff"/><rect x="299.59" y="166.14" width="27.79" height="3.44" fill="#00aaff"/><rect x="327.38" y="166.14" width="7.94" height="3.44" fill="#00a5ff"/><rect x="335.32" y="166.14" width="7.94" height="3.44" fill="#00a0ff"/><rect x="343.26" y="166.14" width="11.91" height="3.44" fill="#009bff"/><rect x="355.17" y="166.14" width="7.94" height="3.44" fill="#0095ff"/><rect x="363.11" y="166.14" width="7.94" height="3.44" fill="#008fff"/><rect x="371.05" y="166.14" width="11.91" height="3.44" fill="#008bff"/><rect x="382.96" y="166.14" width="7.94" height="3.44" fill="#0086ff"/><rect x="390.9" y="166.14" width="3.97" height="3.44" fill="#0082ff"/><rect x="132.85" y="169.58" width="7.94" height="3.44" fill="#00ffd8"/><rect x="140.79" y="169.58" width="3.97" height="3.44" fill="#00ffdc"/><rect x="148.73" y="169.58" width="3.97" height="3.44" fill="#00ffe0"/><rect x="152.7" y="169.58" width="7.94" height="3.44" fill="#00ffe4"/><rect x="160.64" y="169.58" width="3.97" height="3.44" fill="#00ffeb"/><rect x="164.61" y="169.58" width="3.97" height="3.44" fill="#00ffef"/><rect x="168.58" y="169.58" width="3.97" height="3.44" fill="#00fff3"/><rect x="172.55" y="169.58" width="3.97" height="3.44" fill="#00fff8"/><rect x="176.52" y="169.58" width="7.94" height="3.44" fill="#00fffc"/><rect x="184.46" y="169.58" width="3.97" height="3.44" fill="#00f8ff"/><rect x="188.43" y="169.58" width="3.97" height="3.44" fill="#00f3ff"/><rect x="192.4" y="169.58" width="3.97" height="3.44" fill="#00eeff"/><rect x="196.37" y="169.58" width="3.97" height="3.44" fill="#00e7ff"/><rect x="200.34" y="169.58" width="3.97" height="3.44" fill="#00ddff"/><rect x="204.31" y="169.58" width="3.97" height="3.44" fill="#00d0ff"/><rect x="208.28" y="169.58" width="3.97" height="3.44" fill="#00c0ff"/><rect x="212.25" y="169.58" width="3.97" height="3.44" fill="#00b0ff"/><rect x="216.22" y="169.58" width="3.97" height="3.44" fill="#00a1ff"/><rect x="220.19" y="169.58" width="3.97" height="3.44" fill="#0095ff"/><rect x="224.16" y="169.58" width="15.88" height="3.44" fill="#008fff"/><rect x="240.04" y="169.58" width="3.97" height="3.44" fill="#0095ff"/><rect x="244.01" y="169.58" width="3.97" height="3.44" fill="#009aff"/><rect x="247.98" y="169.58" width="3.97" height="3.44" fill="#009fff"/><rect x="251.95" y="169.58" width="3.97" height="3.44" fill="#00a4ff"/><rect x="255.92" y="169.58" width="31.76" height="3.44" fill="#00a9ff"/><rect x="287.68" y="169.58" width="3.97" height="3.44" fill="#00a4ff"/><rect x="291.65" y="169.58" width="3.97" height="3.44" fill="#00a0ff"/><rect x="295.62" y="169.58" width="11.91" height="3.44" fill="#009cff"/><rect x="307.53" y="169.58" width="11.91" height="3.44" fill="#00a0ff"/><rect x="319.44" y="169.58" width="7.94" height="3.44" fill="#00a4ff"/><rect x="327.38" y="169.58" width="7.94" height="3.44" fill="#009fff"/><rect x="335.32" y="169.58" width="7.94" height="3.44" fill="#0099ff"/><rect x="343.26" y="169.58" width="11.91" height="3.44" fill="#0094ff"/><rect x="355.17" y="169.58" width="11.91" height="3.44" fill="#0090ff"/><rect x="367.08" y="169.58" width="15.88" height="3.44" fill="#008bff"/><rect x="382.96" y="169.58" width="7.94" height="3.44" fill="#0087ff"/><rect x="109.03" y="173.02" width="3.97" height="3.44" fill="#00ffce"/><rect x="136.82" y="173.02" width="11.91" height="3.44" fill="#00ffd7"/><rect x="148.73" y="173.02" width="7.94" height="3.44" fill="#00ffdc"/><rect x="156.67" y="173.02" width="7.94" height="3.44" fill="#00ffe2"/><rect x="164.61" y="173.02" width="3.97" height="3.44" fill="#00ffe8"/><rect x="168.58" y="173.02" width="3.97" height="3.44" fill="#00ffec"/><rect x="172.55" y="173.02" width="3.97" height="3.44" fill="#00fff0"/><rect x="176.52" y="173.02" width="3.97" height="3.44" fill="#00fff4"/><rect x="180.49" y="173.02" width="3.97" height="3.44" fill="#00fff8"/><rect x="184.46" y="173.02" width="7.94" height="3.44" fill="#00fffc"/><rect x="192.4" y="173.02" width="3.97" height="3.44" fill="#00fbff"/><rect x="196.37" y="173.02" width="3.97" height="3.44" fill="#00f7ff"/><rect x="200.34" y="173.02" width="3.97" height="3.44" fill="#00f3ff"/><rect x="204.31" y="173.02" width="3.97" height="3.44" fill="#00eeff"/><rect x="208.28" y="173.02" width="3.97" height="3.44" fill="#00e7ff"/><rect x="212.25" y="173.02" width="3.97" height="3.44" fill="#00deff"/><rect x="216.22" y="173.02" width="3.97" height="3.44" fill="#00d1ff"/><rect x="220.19" y="173.02" width="3.97" height="3.44" fill="#00c3ff"/><rect x="224.16" y="173.02" width="3.97" height="3.44" fill="#00b3ff"/><rect x="228.13" y="173.02" width="3.97" height="3.44" fill="#00a5ff"/><rect x="232.1" y="173.02" width="3.97" height="3.44" fill="#0096ff"/><rect x="236.07" y="173.02" width="3.97" height="3.44" fill="#008bff"/><rect x="240.04" y="173.02" width="15.88" height="3.44" fill="#0085ff"/><rect x="255.92" y="173.02" width="7.94" height="3.44" fill="#008cff"/><rect x="263.86" y="173.02" width="11.91" height="3.44" fill="#0090ff"/><rect x="275.77" y="173.02" width="15.88" height="3.44" fill="#0095ff"/><rect x="291.65" y="173.02" width="3.97" height="3.44" fill="#0090ff"/><rect x="295.62" y="173.02" width="11.91" height="3.44" fill="#008bff"/><rect x="307.53" y="173.02" width="3.97" height="3.44" fill="#0091ff"/><rect x="311.5" y="173.02" width="7.94" height="3.44" fill="#0095ff"/><rect x="319.44" y="173.02" width="7.94" height="3.44" fill="#009bff"/><rect x="327.38" y="173.02" width="7.94" height="3.44" fill="#0095ff"/><rect x="335.32" y="173.02" width="7.94" height="3.44" fill="#008fff"/><rect x="343.26" y="173.02" width="43.67" height="3.44" fill="#008aff"/><rect x="113" y="176.46" width="3.97" height="3.44" fill="#00ffcd"/><rect x="140.79" y="176.46" width="11.91" height="3.44" fill="#00ffd5"/><rect x="152.7" y="176.46" width="7.94" height="3.44" fill="#00ffdb"/><rect x="160.64" y="176.46" width="7.94" height="3.44" fill="#00ffe0"/><rect x="168.58" y="176.46" width="7.94" height="3.44" fill="#00ffe5"/><rect x="176.52" y="176.46" width="3.97" height="3.44" fill="#00ffeb"/><rect x="180.49" y="176.46" width="7.94" height="3.44" fill="#00ffef"/><rect x="188.43" y="176.46" width="7.94" height="3.44" fill="#00fff6"/><rect x="196.37" y="176.46" width="11.91" height="3.44" fill="#00fffc"/><rect x="208.28" y="176.46" width="3.97" height="3.44" fill="#00f9ff"/><rect x="212.25" y="176.46" width="3.97" height="3.44" fill="#00f4ff"/><rect x="216.22" y="176.46" width="3.97" height="3.44" fill="#00eeff"/><rect x="220.19" y="176.46" width="3.97" height="3.44" fill="#00e7ff"/><rect x="224.16" y="176.46" width="3.97" height="3.44" fill="#00ddff"/><rect x="228.13" y="176.46" width="3.97" height="3.44" fill="#00d1ff"/><rect x="232.1" y="176.46" width="3.97" height="3.44" fill="#00c0ff"/><rect x="236.07" y="176.46" width="3.97" height="3.44" fill="#00aeff"/><rect x="240.04" y="176.46" width="3.97" height="3.44" fill="#009cff"/><rect x="244.01" y="176.46" width="3.97" height="3.44" fill="#008cff"/><rect x="247.98" y="176.46" width="3.97" height="3.44" fill="#0081ff"/><rect x="251.95" y="176.46" width="15.88" height="3.44" fill="#0079ff"/><rect x="267.83" y="176.46" width="3.97" height="3.44" fill="#007dff"/><rect x="271.8" y="176.46" width="3.97" height="3.44" fill="#0081ff"/><rect x="275.77" y="176.46" width="3.97" height="3.44" fill="#0085ff"/><rect x="279.74" y="176.46" width="11.91" height="3.44" fill="#0089ff"/><rect x="291.65" y="176.46" width="3.97" height="3.44" fill="#0082ff"/><rect x="295.62" y="176.46" width="15.88" height="3.44" fill="#007dff"/><rect x="311.5" y="176.46" width="3.97" height="3.44" fill="#0083ff"/><rect x="315.47" y="176.46" width="3.97" height="3.44" fill="#0087ff"/><rect x="319.44" y="176.46" width="7.94" height="3.44" fill="#008bff"/><rect x="327.38" y="176.46" width="7.94" height="3.44" fill="#0086ff"/><rect x="335.32" y="176.46" width="7.94" height="3.44" fill="#0082ff"/><rect x="343.26" y="176.46" width="31.76" height="3.44" fill="#007eff"/><rect x="375.02" y="176.46" width="11.91" height="3.44" fill="#0083ff"/><rect x="116.97" y="179.9" width="3.97" height="3.44" fill="#00ffcb"/><rect x="144.76" y="179.9" width="11.91" height="3.44" fill="#00ffd4"/><rect x="156.67" y="179.9" width="7.94" height="3.44" fill="#00ffd8"/><rect x="164.61" y="179.9" width="7.94" height="3.44" fill="#00ffdc"/><rect x="172.55" y="179.9" width="7.94" height="3.44" fill="#00ffe0"/><rect x="180.49" y="179.9" width="7.94" height="3.44" fill="#00ffe6"/><rect x="188.43" y="179.9" width="7.94" height="3.44" fill="#00ffeb"/><rect x="196.37" y="179.9" width="7.94" height="3.44" fill="#00fff1"/><rect x="204.31" y="179.9" width="7.94" height="3.44" fill="#00fff7"/><rect x="212.25" y="179.9" width="7.94" height="3.44" fill="#00fffe"/><rect x="220.19" y="179.9" width="3.97" height="3.44" fill="#00f7ff"/><rect x="224.16" y="179.9" width="3.97" height="3.44" fill="#00f3ff"/><rect x="228.13" y="179.9" width="3.97" height="3.44" fill="#00edff"/><rect x="232.1" y="179.9" width="3.97" height="3.44" fill="#00e3ff"/><rect x="236.07" y="179.9" width="3.97" height="3.44" fill="#00d7ff"/><rect x="240.04" y="179.9" width="3.97" height="3.44" fill="#00c7ff"/><rect x="244.01" y="179.9" width="3.97" height="3.44" fill="#00b5ff"/><rect x="247.98" y="179.9" width="3.97" height="3.44" fill="#00a2ff"/><rect x="251.95" y="179.9" width="3.97" height="3.44" fill="#0090ff"/><rect x="255.92" y="179.9" width="3.97" height="3.44" fill="#0080ff"/><rect x="259.89" y="179.9" width="11.91" height="3.44" fill="#007aff"/><rect x="271.8" y="179.9" width="7.94" height="3.44" fill="#0080ff"/><rect x="279.74" y="179.9" width="11.91" height="3.44" fill="#0087ff"/><rect x="291.65" y="179.9" width="3.97" height="3.44" fill="#0080ff"/><rect x="295.62" y="179.9" width="3.97" height="3.44" fill="#007bff"/><rect x="299.59" y="179.9" width="7.94" height="3.44" fill="#0077ff"/><rect x="307.53" y="179.9" width="11.91" height="3.44" fill="#0072ff"/><rect x="319.44" y="179.9" width="15.88" height="3.44" fill="#0078ff"/><rect x="335.32" y="179.9" width="15.88" height="3.44" fill="#0074ff"/><rect x="351.2" y="179.9" width="19.85" height="3.44" fill="#0070ff"/><rect x="371.05" y="179.9" width="3.97" height="3.44" fill="#0076ff"/><rect x="375.02" y="179.9" width="7.94" height="3.44" fill="#007aff"/><rect x="382.96" y="179.9" width="3.97" height="3.44" fill="#007fff"/><rect x="120.94" y="183.34" width="3.97" height="3.44" fill="#00ffca"/><rect x="148.73" y="183.34" width="15.88" height="3.44" fill="#00ffd1"/><rect x="164.61" y="183.34" width="11.91" height="3.44" fill="#00ffd5"/><rect x="176.52" y="183.34" width="7.94" height="3.44" fill="#00ffda"/><rect x="184.46" y="183.34" width="7.94" height="3.44" fill="#00ffdf"/><rect x="192.4" y="183.34" width="7.94" height="3.44" fill="#00ffe4"/><rect x="200.34" y="183.34" width="7.94" height="3.44" fill="#00ffea"/><rect x="208.28" y="183.34" width="3.97" height="3.44" fill="#00fff0"/><rect x="212.25" y="183.34" width="3.97" height="3.44" fill="#00fff4"/><rect x="216.22" y="183.34" width="3.97" height="3.44" fill="#00fff8"/><rect x="220.19" y="183.34" width="7.94" height="3.44" fill="#00fffc"/><rect x="228.13" y="183.34" width="3.97" height="3.44" fill="#00faff"/><rect x="232.1" y="183.34" width="3.97" height="3.44" fill="#00f5ff"/><rect x="236.07" y="183.34" width="3.97" height="3.44" fill="#00eeff"/><rect x="240.04" y="183.34" width="3.97" height="3.44" fill="#00e5ff"/><rect x="244.01" y="183.34" width="3.97" height="3.44" fill="#00daff"/><rect x="247.98" y="183.34" width="3.97" height="3.44" fill="#00cbff"/><rect x="251.95" y="183.34" width="3.97" height="3.44" fill="#00b9ff"/><rect x="255.92" y="183.34" width="3.97" height="3.44" fill="#00a6ff"/><rect x="259.89" y="183.34" width="3.97" height="3.44" fill="#009aff"/><rect x="263.86" y="183.34" width="23.82" height="3.44" fill="#0096ff"/><rect x="287.68" y="183.34" width="3.97" height="3.44" fill="#0090ff"/><rect x="291.65" y="183.34" width="3.97" height="3.44" fill="#008cff"/><rect x="295.62" y="183.34" width="3.97" height="3.44" fill="#0087ff"/><rect x="299.59" y="183.34" width="3.97" height="3.44" fill="#0081ff"/><rect x="303.56" y="183.34" width="3.97" height="3.44" fill="#0078ff"/><rect x="307.53" y="183.34" width="3.97" height="3.44" fill="#0072ff"/><rect x="311.5" y="183.34" width="39.7" height="3.44" fill="#006dff"/><rect x="351.2" y="183.34" width="7.94" height="3.44" fill="#0066ff"/><rect x="359.14" y="183.34" width="11.91" height="3.44" fill="#0061ff"/><rect x="371.05" y="183.34" width="3.97" height="3.44" fill="#0068ff"/><rect x="375.02" y="183.34" width="3.97" height="3.44" fill="#006cff"/><rect x="378.99" y="183.34" width="3.97" height="3.44" fill="#0071ff"/><rect x="382.96" y="183.34" width="3.97" height="3.44" fill="#0075ff"/><rect x="124.91" y="186.78" width="7.94" height="3.44" fill="#00ffca"/><rect x="152.7" y="186.78" width="19.85" height="3.44" fill="#00ffd1"/><rect x="172.55" y="186.78" width="11.91" height="3.44" fill="#00ffd6"/><rect x="184.46" y="186.78" width="7.94" height="3.44" fill="#00ffdb"/><rect x="192.4" y="186.78" width="7.94" height="3.44" fill="#00ffe0"/><rect x="200.34" y="186.78" width="7.94" height="3.44" fill="#00ffe6"/><rect x="208.28" y="186.78" width="3.97" height="3.44" fill="#00ffeb"/><rect x="212.25" y="186.78" width="3.97" height="3.44" fill="#00ffef"/><rect x="216.22" y="186.78" width="3.97" height="3.44" fill="#00fff3"/><rect x="220.19" y="186.78" width="7.94" height="3.44" fill="#00fff7"/><rect x="228.13" y="186.78" width="7.94" height="3.44" fill="#00fffe"/><rect x="236.07" y="186.78" width="3.97" height="3.44" fill="#00f7ff"/><rect x="240.04" y="186.78" width="3.97" height="3.44" fill="#00f2ff"/><rect x="244.01" y="186.78" width="3.97" height="3.44" fill="#00ecff"/><rect x="247.98" y="186.78" width="3.97" height="3.44" fill="#00e4ff"/><rect x="251.95" y="186.78" width="3.97" height="3.44" fill="#00daff"/><rect x="255.92" y="186.78" width="3.97" height="3.44" fill="#00ccff"/><rect x="259.89" y="186.78" width="3.97" height="3.44" fill="#00c1ff"/><rect x="263.86" y="186.78" width="3.97" height="3.44" fill="#00bbff"/><rect x="267.83" y="186.78" width="7.94" height="3.44" fill="#00b5ff"/><rect x="275.77" y="186.78" width="7.94" height="3.44" fill="#00afff"/><rect x="283.71" y="186.78" width="3.97" height="3.44" fill="#00abff"/><rect x="287.68" y="186.78" width="3.97" height="3.44" fill="#00a7ff"/><rect x="291.65" y="186.78" width="3.97" height="3.44" fill="#00a2ff"/><rect x="295.62" y="186.78" width="3.97" height="3.44" fill="#009eff"/><rect x="299.59" y="186.78" width="3.97" height="3.44" fill="#0097ff"/><rect x="303.56" y="186.78" width="3.97" height="3.44" fill="#008cff"/><rect x="307.53" y="186.78" width="3.97" height="3.44" fill="#0082ff"/><rect x="311.5" y="186.78" width="3.97" height="3.44" fill="#0078ff"/><rect x="315.47" y="186.78" width="3.97" height="3.44" fill="#0071ff"/><rect x="319.44" y="186.78" width="11.91" height="3.44" fill="#006bff"/><rect x="331.35" y="186.78" width="11.91" height="3.44" fill="#006fff"/><rect x="343.26" y="186.78" width="3.97" height="3.44" fill="#0074ff"/><rect x="347.23" y="186.78" width="3.97" height="3.44" fill="#006dff"/><rect x="351.2" y="186.78" width="3.97" height="3.44" fill="#0066ff"/><rect x="355.17" y="186.78" width="3.97" height="3.44" fill="#0060ff"/><rect x="359.14" y="186.78" width="3.97" height="3.44" fill="#005bff"/><rect x="363.11" y="186.78" width="7.94" height="3.44" fill="#0057ff"/><rect x="371.05" y="186.78" width="3.97" height="3.44" fill="#005bff"/><rect x="375.02" y="186.78" width="3.97" height="3.44" fill="#005fff"/><rect x="378.99" y="186.78" width="3.97" height="3.44" fill="#0064ff"/><rect x="382.96" y="186.78" width="3.97" height="3.44" fill="#0068ff"/><rect x="124.91" y="190.22" width="15.88" height="3.44" fill="#00ffc9"/><rect x="156.67" y="190.22" width="19.85" height="3.44" fill="#00ffd0"/><rect x="176.52" y="190.22" width="11.91" height="3.44" fill="#00ffd5"/><rect x="188.43" y="190.22" width="7.94" height="3.44" fill="#00ffda"/><rect x="196.37" y="190.22" width="7.94" height="3.44" fill="#00ffdf"/><rect x="204.31" y="190.22" width="7.94" height="3.44" fill="#00ffe4"/><rect x="212.25" y="190.22" width="3.97" height="3.44" fill="#00ffea"/><rect x="216.22" y="190.22" width="7.94" height="3.44" fill="#00ffee"/><rect x="224.16" y="190.22" width="7.94" height="3.44" fill="#00fff5"/><rect x="232.1" y="190.22" width="7.94" height="3.44" fill="#00fffc"/><rect x="240.04" y="190.22" width="3.97" height="3.44" fill="#00f9ff"/><rect x="244.01" y="190.22" width="3.97" height="3.44" fill="#00f5ff"/><rect x="247.98" y="190.22" width="3.97" height="3.44" fill="#00f0ff"/><rect x="251.95" y="190.22" width="3.97" height="3.44" fill="#00eaff"/><rect x="255.92" y="190.22" width="3.97" height="3.44" fill="#00e3ff"/><rect x="259.89" y="190.22" width="3.97" height="3.44" fill="#00dbff"/><rect x="263.86" y="190.22" width="3.97" height="3.44" fill="#00d5ff"/><rect x="267.83" y="190.22" width="3.97" height="3.44" fill="#00cfff"/><rect x="271.8" y="190.22" width="3.97" height="3.44" fill="#00cbff"/><rect x="275.77" y="190.22" width="7.94" height="3.44" fill="#00c7ff"/><rect x="283.71" y="190.22" width="3.97" height="3.44" fill="#00c1ff"/><rect x="287.68" y="190.22" width="3.97" height="3.44" fill="#00bdff"/><rect x="291.65" y="190.22" width="3.97" height="3.44" fill="#00b9ff"/><rect x="295.62" y="190.22" width="3.97" height="3.44" fill="#00b5ff"/><rect x="299.59" y="190.22" width="3.97" height="3.44" fill="#00afff"/><rect x="303.56" y="190.22" width="3.97" height="3.44" fill="#00a5ff"/><rect x="307.53" y="190.22" width="3.97" height="3.44" fill="#009aff"/><rect x="311.5" y="190.22" width="3.97" height="3.44" fill="#008eff"/><rect x="315.47" y="190.22" width="3.97" height="3.44" fill="#0083ff"/><rect x="319.44" y="190.22" width="11.91" height="3.44" fill="#0079ff"/><rect x="331.35" y="190.22" width="11.91" height="3.44" fill="#007eff"/><rect x="343.26" y="190.22" width="3.97" height="3.44" fill="#0082ff"/><rect x="347.23" y="190.22" width="3.97" height="3.44" fill="#0079ff"/><rect x="351.2" y="190.22" width="3.97" height="3.44" fill="#0070ff"/><rect x="355.17" y="190.22" width="3.97" height="3.44" fill="#0067ff"/><rect x="359.14" y="190.22" width="3.97" height="3.44" fill="#005fff"/><rect x="363.11" y="190.22" width="19.85" height="3.44" fill="#0058ff"/><rect x="382.96" y="190.22" width="3.97" height="3.44" fill="#005cff"/><rect x="386.93" y="190.22" width="3.97" height="3.44" fill="#0060ff"/><rect x="390.9" y="190.22" width="3.97" height="3.44" fill="#0065ff"/><rect x="124.91" y="193.66" width="15.88" height="3.44" fill="#00ffc8"/><rect x="140.79" y="193.66" width="3.97" height="3.44" fill="#00ffcc"/><rect x="156.67" y="193.66" width="19.85" height="3.44" fill="#00ffce"/><rect x="176.52" y="193.66" width="11.91" height="3.44" fill="#00ffd2"/><rect x="188.43" y="193.66" width="7.94" height="3.44" fill="#00ffd6"/><rect x="196.37" y="193.66" width="7.94" height="3.44" fill="#00ffdb"/><rect x="204.31" y="193.66" width="7.94" height="3.44" fill="#00ffdf"/><rect x="212.25" y="193.66" width="3.97" height="3.44" fill="#00ffe5"/><rect x="216.22" y="193.66" width="7.94" height="3.44" fill="#00ffe9"/><rect x="224.16" y="193.66" width="3.97" height="3.44" fill="#00ffef"/><rect x="228.13" y="193.66" width="3.97" height="3.44" fill="#00fff3"/><rect x="232.1" y="193.66" width="3.97" height="3.44" fill="#00fff7"/><rect x="236.07" y="193.66" width="3.97" height="3.44" fill="#00fffb"/><rect x="240.04" y="193.66" width="3.97" height="3.44" fill="#00ffff"/><rect x="244.01" y="193.66" width="3.97" height="3.44" fill="#00fbff"/><rect x="247.98" y="193.66" width="3.97" height="3.44" fill="#00f7ff"/><rect x="251.95" y="193.66" width="3.97" height="3.44" fill="#00f3ff"/><rect x="255.92" y="193.66" width="3.97" height="3.44" fill="#00eeff"/><rect x="259.89" y="193.66" width="3.97" height="3.44" fill="#00e9ff"/><rect x="263.86" y="193.66" width="3.97" height="3.44" fill="#00e4ff"/><rect x="267.83" y="193.66" width="3.97" height="3.44" fill="#00dfff"/><rect x="271.8" y="193.66" width="7.94" height="3.44" fill="#00dbff"/><rect x="279.74" y="193.66" width="3.97" height="3.44" fill="#00d4ff"/><rect x="283.71" y="193.66" width="7.94" height="3.44" fill="#00d0ff"/><rect x="291.65" y="193.66" width="3.97" height="3.44" fill="#00caff"/><rect x="295.62" y="193.66" width="3.97" height="3.44" fill="#00c6ff"/><rect x="299.59" y="193.66" width="3.97" height="3.44" fill="#00c2ff"/><rect x="303.56" y="193.66" width="3.97" height="3.44" fill="#00baff"/><rect x="307.53" y="193.66" width="3.97" height="3.44" fill="#00b1ff"/><rect x="311.5" y="193.66" width="3.97" height="3.44" fill="#00a7ff"/><rect x="315.47" y="193.66" width="3.97" height="3.44" fill="#009cff"/><rect x="319.44" y="193.66" width="19.85" height="3.44" fill="#0091ff"/><rect x="339.29" y="193.66" width="7.94" height="3.44" fill="#0095ff"/><rect x="347.23" y="193.66" width="3.97" height="3.44" fill="#008bff"/><rect x="351.2" y="193.66" width="3.97" height="3.44" fill="#0081ff"/><rect x="355.17" y="193.66" width="3.97" height="3.44" fill="#0077ff"/><rect x="359.14" y="193.66" width="3.97" height="3.44" fill="#006dff"/><rect x="363.11" y="193.66" width="3.97" height="3.44" fill="#0063ff"/><rect x="367.08" y="193.66" width="3.97" height="3.44" fill="#005dff"/><rect x="371.05" y="193.66" width="7.94" height="3.44" fill="#0059ff"/><rect x="378.99" y="193.66" width="11.91" height="3.44" fill="#0055ff"/><rect x="116.97" y="197.1" width="11.91" height="3.44" fill="#00ffc4"/><rect x="128.88" y="197.1" width="15.88" height="3.44" fill="#00ffc8"/><rect x="144.76" y="197.1" width="3.97" height="3.44" fill="#00ffcc"/><rect x="160.64" y="197.1" width="23.82" height="3.44" fill="#00ffcd"/><rect x="184.46" y="197.1" width="7.94" height="3.44" fill="#00ffd1"/><rect x="192.4" y="197.1" width="7.94" height="3.44" fill="#00ffd5"/><rect x="200.34" y="197.1" width="7.94" height="3.44" fill="#00ffd9"/><rect x="208.28" y="197.1" width="7.94" height="3.44" fill="#00ffdd"/><rect x="216.22" y="197.1" width="7.94" height="3.44" fill="#00ffe3"/><rect x="224.16" y="197.1" width="7.94" height="3.44" fill="#00ffea"/><rect x="232.1" y="197.1" width="3.97" height="3.44" fill="#00fff1"/><rect x="236.07" y="197.1" width="3.97" height="3.44" fill="#00fff5"/><rect x="240.04" y="197.1" width="3.97" height="3.44" fill="#00fff9"/><rect x="244.01" y="197.1" width="7.94" height="3.44" fill="#00fffd"/><rect x="251.95" y="197.1" width="3.97" height="3.44" fill="#00f9ff"/><rect x="255.92" y="197.1" width="3.97" height="3.44" fill="#00f5ff"/><rect x="259.89" y="197.1" width="3.97" height="3.44" fill="#00f1ff"/><rect x="263.86" y="197.1" width="3.97" height="3.44" fill="#00ecff"/><rect x="267.83" y="197.1" width="7.94" height="3.44" fill="#00e8ff"/><rect x="275.77" y="197.1" width="7.94" height="3.44" fill="#00e1ff"/><rect x="283.71" y="197.1" width="7.94" height="3.44" fill="#00daff"/><rect x="291.65" y="197.1" width="7.94" height="3.44" fill="#00d4ff"/><rect x="299.59" y="197.1" width="3.97" height="3.44" fill="#00cfff"/><rect x="303.56" y="197.1" width="3.97" height="3.44" fill="#00caff"/><rect x="307.53" y="197.1" width="3.97" height="3.44" fill="#00c4ff"/><rect x="311.5" y="197.1" width="3.97" height="3.44" fill="#00bcff"/><rect x="315.47" y="197.1" width="3.97" height="3.44" fill="#00b4ff"/><rect x="319.44" y="197.1" width="23.82" height="3.44" fill="#00aaff"/><rect x="343.26" y="197.1" width="3.97" height="3.44" fill="#00a6ff"/><rect x="347.23" y="197.1" width="3.97" height="3.44" fill="#009eff"/><rect x="351.2" y="197.1" width="3.97" height="3.44" fill="#0095ff"/><rect x="355.17" y="197.1" width="3.97" height="3.44" fill="#008bff"/><rect x="359.14" y="197.1" width="3.97" height="3.44" fill="#0081ff"/><rect x="363.11" y="197.1" width="3.97" height="3.44" fill="#0076ff"/><rect x="367.08" y="197.1" width="3.97" height="3.44" fill="#006eff"/><rect x="371.05" y="197.1" width="3.97" height="3.44" fill="#0066ff"/><rect x="375.02" y="197.1" width="3.97" height="3.44" fill="#0060ff"/><rect x="378.99" y="197.1" width="3.97" height="3.44" fill="#005bff"/><rect x="116.97" y="200.54" width="15.88" height="3.44" fill="#00ffc3"/><rect x="132.85" y="200.54" width="15.88" height="3.44" fill="#00ffc7"/><rect x="148.73" y="200.54" width="3.97" height="3.44" fill="#00ffcb"/><rect x="164.61" y="200.54" width="19.85" height="3.44" fill="#00ffcc"/><rect x="184.46" y="200.54" width="11.91" height="3.44" fill="#00ffd0"/><rect x="196.37" y="200.54" width="7.94" height="3.44" fill="#00ffd5"/><rect x="204.31" y="200.54" width="7.94" height="3.44" fill="#00ffd9"/><rect x="212.25" y="200.54" width="7.94" height="3.44" fill="#00ffdd"/><rect x="220.19" y="200.54" width="7.94" height="3.44" fill="#00ffe2"/><rect x="228.13" y="200.54" width="7.94" height="3.44" fill="#00ffe8"/><rect x="236.07" y="200.54" width="7.94" height="3.44" fill="#00ffef"/><rect x="244.01" y="200.54" width="3.97" height="3.44" fill="#00fff5"/><rect x="247.98" y="200.54" width="7.94" height="3.44" fill="#00fff9"/><rect x="255.92" y="200.54" width="7.94" height="3.44" fill="#00feff"/><rect x="263.86" y="200.54" width="7.94" height="3.44" fill="#00f7ff"/><rect x="271.8" y="200.54" width="7.94" height="3.44" fill="#00f1ff"/><rect x="279.74" y="200.54" width="7.94" height="3.44" fill="#00ecff"/><rect x="287.68" y="200.54" width="7.94" height="3.44" fill="#00e6ff"/><rect x="295.62" y="200.54" width="7.94" height="3.44" fill="#00e2ff"/><rect x="303.56" y="200.54" width="3.97" height="3.44" fill="#00ddff"/><rect x="307.53" y="200.54" width="3.97" height="3.44" fill="#00d9ff"/><rect x="311.5" y="200.54" width="3.97" height="3.44" fill="#00d4ff"/><rect x="315.47" y="200.54" width="3.97" height="3.44" fill="#00cfff"/><rect x="319.44" y="200.54" width="11.91" height="3.44" fill="#00c8ff"/><rect x="331.35" y="200.54" width="7.94" height="3.44" fill="#00c4ff"/><rect x="339.29" y="200.54" width="7.94" height="3.44" fill="#00c0ff"/><rect x="347.23" y="200.54" width="3.97" height="3.44" fill="#00b7ff"/><rect x="351.2" y="200.54" width="3.97" height="3.44" fill="#00afff"/><rect x="355.17" y="200.54" width="3.97" height="3.44" fill="#00a6ff"/><rect x="359.14" y="200.54" width="3.97" height="3.44" fill="#009dff"/><rect x="363.11" y="200.54" width="3.97" height="3.44" fill="#0093ff"/><rect x="367.08" y="200.54" width="3.97" height="3.44" fill="#0089ff"/><rect x="371.05" y="200.54" width="3.97" height="3.44" fill="#0081ff"/><rect x="375.02" y="200.54" width="3.97" height="3.44" fill="#0079ff"/><rect x="378.99" y="200.54" width="3.97" height="3.44" fill="#0071ff"/><rect x="116.97" y="203.98" width="19.85" height="3.44" fill="#00ffc1"/><rect x="136.82" y="203.98" width="15.88" height="3.44" fill="#00ffc5"/><rect x="152.7" y="203.98" width="3.97" height="3.44" fill="#00ffc9"/><rect x="168.58" y="203.98" width="15.88" height="3.44" fill="#00ffcc"/><rect x="184.46" y="203.98" width="11.91" height="3.44" fill="#00ffd0"/><rect x="196.37" y="203.98" width="11.91" height="3.44" fill="#00ffd5"/><rect x="208.28" y="203.98" width="7.94" height="3.44" fill="#00ffd9"/><rect x="216.22" y="203.98" width="7.94" height="3.44" fill="#00ffdd"/><rect x="224.16" y="203.98" width="7.94" height="3.44" fill="#00ffe1"/><rect x="232.1" y="203.98" width="7.94" height="3.44" fill="#00ffe5"/><rect x="240.04" y="203.98" width="7.94" height="3.44" fill="#00ffea"/><rect x="247.98" y="203.98" width="7.94" height="3.44" fill="#00ffef"/><rect x="255.92" y="203.98" width="7.94" height="3.44" fill="#00fff4"/><rect x="263.86" y="203.98" width="7.94" height="3.44" fill="#00fffa"/><rect x="271.8" y="203.98" width="11.91" height="3.44" fill="#00fffe"/><rect x="283.71" y="203.98" width="11.91" height="3.44" fill="#00faff"/><rect x="295.62" y="203.98" width="7.94" height="3.44" fill="#00f5ff"/><rect x="303.56" y="203.98" width="7.94" height="3.44" fill="#00f1ff"/><rect x="311.5" y="203.98" width="7.94" height="3.44" fill="#00ecff"/><rect x="319.44" y="203.98" width="11.91" height="3.44" fill="#00e5ff"/><rect x="331.35" y="203.98" width="7.94" height="3.44" fill="#00dfff"/><rect x="339.29" y="203.98" width="3.97" height="3.44" fill="#00daff"/><rect x="343.26" y="203.98" width="3.97" height="3.44" fill="#00d6ff"/><rect x="347.23" y="203.98" width="3.97" height="3.44" fill="#00d1ff"/><rect x="351.2" y="203.98" width="3.97" height="3.44" fill="#00caff"/><rect x="355.17" y="203.98" width="3.97" height="3.44" fill="#00c3ff"/><rect x="359.14" y="203.98" width="3.97" height="3.44" fill="#00baff"/><rect x="363.11" y="203.98" width="3.97" height="3.44" fill="#00b1ff"/><rect x="367.08" y="203.98" width="3.97" height="3.44" fill="#00a8ff"/><rect x="371.05" y="203.98" width="3.97" height="3.44" fill="#009fff"/><rect x="375.02" y="203.98" width="3.97" height="3.44" fill="#0097ff"/><rect x="378.99" y="203.98" width="3.97" height="3.44" fill="#008eff"/><rect x="124.91" y="207.42" width="15.88" height="3.44" fill="#00ffc0"/><rect x="140.79" y="207.42" width="15.88" height="3.44" fill="#00ffc4"/><rect x="156.67" y="207.42" width="3.97" height="3.44" fill="#00ffc8"/><rect x="168.58" y="207.42" width="15.88" height="3.44" fill="#00ffcc"/><rect x="184.46" y="207.42" width="11.91" height="3.44" fill="#00ffd0"/><rect x="196.37" y="207.42" width="11.91" height="3.44" fill="#00ffd4"/><rect x="208.28" y="207.42" width="11.91" height="3.44" fill="#00ffd8"/><rect x="220.19" y="207.42" width="11.91" height="3.44" fill="#00ffdc"/><rect x="232.1" y="207.42" width="11.91" height="3.44" fill="#00ffe0"/><rect x="244.01" y="207.42" width="11.91" height="3.44" fill="#00ffe5"/><rect x="255.92" y="207.42" width="11.91" height="3.44" fill="#00ffe9"/><rect x="267.83" y="207.42" width="11.91" height="3.44" fill="#00ffee"/><rect x="279.74" y="207.42" width="15.88" height="3.44" fill="#00fff2"/><rect x="295.62" y="207.42" width="11.91" height="3.44" fill="#00fff7"/><rect x="307.53" y="207.42" width="7.94" height="3.44" fill="#00fffb"/><rect x="315.47" y="207.42" width="7.94" height="3.44" fill="#00ffff"/><rect x="323.41" y="207.42" width="7.94" height="3.44" fill="#00fbff"/><rect x="331.35" y="207.42" width="3.97" height="3.44" fill="#00f7ff"/><rect x="335.32" y="207.42" width="7.94" height="3.44" fill="#00f3ff"/><rect x="343.26" y="207.42" width="3.97" height="3.44" fill="#00ecff"/><rect x="347.23" y="207.42" width="3.97" height="3.44" fill="#00e8ff"/><rect x="351.2" y="207.42" width="3.97" height="3.44" fill="#00e1ff"/><rect x="355.17" y="207.42" width="3.97" height="3.44" fill="#00daff"/><rect x="359.14" y="207.42" width="3.97" height="3.44" fill="#00d3ff"/><rect x="363.11" y="207.42" width="3.97" height="3.44" fill="#00caff"/><rect x="367.08" y="207.42" width="3.97" height="3.44" fill="#00c2ff"/><rect x="371.05" y="207.42" width="3.97" height="3.44" fill="#00baff"/><rect x="375.02" y="207.42" width="3.97" height="3.44" fill="#00b3ff"/><rect x="378.99" y="207.42" width="3.97" height="3.44" fill="#00abff"/><rect x="124.91" y="210.86" width="15.88" height="3.44" fill="#00ffbe"/><rect x="140.79" y="210.86" width="15.88" height="3.44" fill="#00ffc2"/><rect x="156.67" y="210.86" width="7.94" height="3.44" fill="#00ffc7"/><rect x="172.55" y="210.86" width="15.88" height="3.44" fill="#00ffcd"/><rect x="188.43" y="210.86" width="11.91" height="3.44" fill="#00ffd1"/><rect x="200.34" y="210.86" width="19.85" height="3.44" fill="#00ffd5"/><rect x="220.19" y="210.86" width="27.79" height="3.44" fill="#00ffd9"/><rect x="247.98" y="210.86" width="23.82" height="3.44" fill="#00ffdd"/><rect x="271.8" y="210.86" width="23.82" height="3.44" fill="#00ffe1"/><rect x="295.62" y="210.86" width="15.88" height="3.44" fill="#00ffe5"/><rect x="311.5" y="210.86" width="11.91" height="3.44" fill="#00ffea"/><rect x="323.41" y="210.86" width="7.94" height="3.44" fill="#00ffee"/><rect x="331.35" y="210.86" width="3.97" height="3.44" fill="#00fff2"/><rect x="335.32" y="210.86" width="3.97" height="3.44" fill="#00fff6"/><rect x="339.29" y="210.86" width="3.97" height="3.44" fill="#00fffa"/><rect x="343.26" y="210.86" width="7.94" height="3.44" fill="#00fffe"/><rect x="351.2" y="210.86" width="3.97" height="3.44" fill="#00f6ff"/><rect x="355.17" y="210.86" width="3.97" height="3.44" fill="#00eeff"/><rect x="359.14" y="210.86" width="3.97" height="3.44" fill="#00e7ff"/><rect x="363.11" y="210.86" width="3.97" height="3.44" fill="#00dfff"/><rect x="367.08" y="210.86" width="3.97" height="3.44" fill="#00d7ff"/><rect x="371.05" y="210.86" width="3.97" height="3.44" fill="#00d1ff"/><rect x="375.02" y="210.86" width="3.97" height="3.44" fill="#00caff"/><rect x="128.88" y="214.3" width="15.88" height="3.44" fill="#00ffbc"/><rect x="144.76" y="214.3" width="11.91" height="3.44" fill="#00ffc0"/><rect x="156.67" y="214.3" width="7.94" height="3.44" fill="#00ffc5"/><rect x="164.61" y="214.3" width="3.97" height="3.44" fill="#00ffc9"/><rect x="176.52" y="214.3" width="15.88" height="3.44" fill="#00ffcd"/><rect x="192.4" y="214.3" width="99.25" height="3.44" fill="#00ffd1"/><rect x="291.65" y="214.3" width="15.88" height="3.44" fill="#00ffd5"/><rect x="307.53" y="214.3" width="15.88" height="3.44" fill="#00ffd9"/><rect x="323.41" y="214.3" width="7.94" height="3.44" fill="#00ffde"/><rect x="331.35" y="214.3" width="3.97" height="3.44" fill="#00ffe2"/><rect x="335.32" y="214.3" width="3.97" height="3.44" fill="#00ffe6"/><rect x="339.29" y="214.3" width="3.97" height="3.44" fill="#00ffea"/><rect x="343.26" y="214.3" width="3.97" height="3.44" fill="#00ffee"/><rect x="347.23" y="214.3" width="3.97" height="3.44" fill="#00fff2"/><rect x="351.2" y="214.3" width="3.97" height="3.44" fill="#00fff9"/><rect x="355.17" y="214.3" width="3.97" height="3.44" fill="#00feff"/><rect x="359.14" y="214.3" width="3.97" height="3.44" fill="#00f6ff"/><rect x="363.11" y="214.3" width="3.97" height="3.44" fill="#00efff"/><rect x="367.08" y="214.3" width="3.97" height="3.44" fill="#00e7ff"/><rect x="371.05" y="214.3" width="3.97" height="3.44" fill="#00e1ff"/><rect x="375.02" y="214.3" width="3.97" height="3.44" fill="#00dcff"/><rect x="378.99" y="214.3" width="3.97" height="3.44" fill="#00d6ff"/><rect x="132.85" y="217.74" width="15.88" height="3.44" fill="#00ffbb"/><rect x="148.73" y="217.74" width="7.94" height="3.44" fill="#00ffbf"/><rect x="156.67" y="217.74" width="11.91" height="3.44" fill="#00ffc3"/><rect x="168.58" y="217.74" width="3.97" height="3.44" fill="#00ffc8"/><rect x="180.49" y="217.74" width="23.82" height="3.44" fill="#00ffca"/><rect x="204.31" y="217.74" width="103.22" height="3.44" fill="#00ffce"/><rect x="307.53" y="217.74" width="11.91" height="3.44" fill="#00ffd2"/><rect x="319.44" y="217.74" width="11.91" height="3.44" fill="#00ffd6"/><rect x="331.35" y="217.74" width="3.97" height="3.44" fill="#00ffdc"/><rect x="335.32" y="217.74" width="3.97" height="3.44" fill="#00ffe0"/><rect x="339.29" y="217.74" width="3.97" height="3.44" fill="#00ffe4"/><rect x="343.26" y="217.74" width="3.97" height="3.44" fill="#00ffe8"/><rect x="347.23" y="217.74" width="3.97" height="3.44" fill="#00ffec"/><rect x="351.2" y="217.74" width="3.97" height="3.44" fill="#00fff3"/><rect x="355.17" y="217.74" width="3.97" height="3.44" fill="#00fffa"/><rect x="359.14" y="217.74" width="3.97" height="3.44" fill="#00fdff"/><rect x="363.11" y="217.74" width="3.97" height="3.44" fill="#00f6ff"/><rect x="367.08" y="217.74" width="3.97" height="3.44" fill="#00efff"/><rect x="371.05" y="217.74" width="3.97" height="3.44" fill="#00eaff"/><rect x="375.02" y="217.74" width="3.97" height="3.44" fill="#00e6ff"/><rect x="378.99" y="217.74" width="3.97" height="3.44" fill="#00e1ff"/><rect x="382.96" y="217.74" width="3.97" height="3.44" fill="#00dcff"/><rect x="140.79" y="221.18" width="15.88" height="3.44" fill="#00ffbb"/><rect x="156.67" y="221.18" width="11.91" height="3.44" fill="#00ffc0"/><rect x="168.58" y="221.18" width="3.97" height="3.44" fill="#00ffc4"/><rect x="180.49" y="221.18" width="27.79" height="3.44" fill="#00ffc5"/><rect x="208.28" y="221.18" width="103.22" height="3.44" fill="#00ffc9"/><rect x="311.5" y="221.18" width="11.91" height="3.44" fill="#00ffcd"/><rect x="323.41" y="221.18" width="7.94" height="3.44" fill="#00ffd1"/><rect x="331.35" y="221.18" width="3.97" height="3.44" fill="#00ffd6"/><rect x="335.32" y="221.18" width="3.97" height="3.44" fill="#00ffda"/><rect x="339.29" y="221.18" width="3.97" height="3.44" fill="#00ffde"/><rect x="343.26" y="221.18" width="3.97" height="3.44" fill="#00ffe3"/><rect x="347.23" y="221.18" width="3.97" height="3.44" fill="#00ffe7"/><rect x="351.2" y="221.18" width="3.97" height="3.44" fill="#00ffed"/><rect x="355.17" y="221.18" width="3.97" height="3.44" fill="#00fff3"/><rect x="359.14" y="221.18" width="3.97" height="3.44" fill="#00fffa"/><rect x="363.11" y="221.18" width="3.97" height="3.44" fill="#00feff"/><rect x="367.08" y="221.18" width="3.97" height="3.44" fill="#00f7ff"/><rect x="371.05" y="221.18" width="3.97" height="3.44" fill="#00f2ff"/><rect x="375.02" y="221.18" width="3.97" height="3.44" fill="#00eeff"/><rect x="378.99" y="221.18" width="3.97" height="3.44" fill="#00eaff"/><rect x="144.76" y="224.62" width="11.91" height="3.44" fill="#00ffb9"/><rect x="156.67" y="224.62" width="15.88" height="3.44" fill="#00ffbd"/><rect x="172.55" y="224.62" width="3.97" height="3.44" fill="#00ffc1"/><rect x="184.46" y="224.62" width="127.04" height="3.44" fill="#00ffc1"/><rect x="311.5" y="224.62" width="11.91" height="3.44" fill="#00ffc6"/><rect x="323.41" y="224.62" width="7.94" height="3.44" fill="#00ffcb"/><rect x="331.35" y="224.62" width="3.97" height="3.44" fill="#00ffd1"/><rect x="335.32" y="224.62" width="3.97" height="3.44" fill="#00ffd5"/><rect x="339.29" y="224.62" width="3.97" height="3.44" fill="#00ffd9"/><rect x="343.26" y="224.62" width="3.97" height="3.44" fill="#00ffdd"/><rect x="347.23" y="224.62" width="3.97" height="3.44" fill="#00ffe1"/><rect x="351.2" y="224.62" width="3.97" height="3.44" fill="#00ffe7"/><rect x="355.17" y="224.62" width="3.97" height="3.44" fill="#00ffed"/><rect x="359.14" y="224.62" width="3.97" height="3.44" fill="#00fff3"/><rect x="363.11" y="224.62" width="3.97" height="3.44" fill="#00fffa"/><rect x="367.08" y="224.62" width="3.97" height="3.44" fill="#00feff"/><rect x="371.05" y="224.62" width="3.97" height="3.44" fill="#00f9ff"/><rect x="375.02" y="224.62" width="3.97" height="3.44" fill="#00f5ff"/><rect x="378.99" y="224.62" width="3.97" height="3.44" fill="#00f1ff"/><rect x="148.73" y="228.06" width="15.88" height="3.44" fill="#00ffb8"/><rect x="164.61" y="228.06" width="150.86" height="3.44" fill="#00ffbc"/><rect x="315.47" y="228.06" width="7.94" height="3.44" fill="#00ffc1"/><rect x="323.41" y="228.06" width="7.94" height="3.44" fill="#00ffc5"/><rect x="331.35" y="228.06" width="3.97" height="3.44" fill="#00ffcb"/><rect x="335.32" y="228.06" width="3.97" height="3.44" fill="#00ffcf"/><rect x="339.29" y="228.06" width="3.97" height="3.44" fill="#00ffd3"/><rect x="343.26" y="228.06" width="3.97" height="3.44" fill="#00ffd7"/><rect x="347.23" y="228.06" width="3.97" height="3.44" fill="#00ffdb"/><rect x="351.2" y="228.06" width="3.97" height="3.44" fill="#00ffe1"/><rect x="355.17" y="228.06" width="3.97" height="3.44" fill="#00ffe7"/><rect x="359.14" y="228.06" width="3.97" height="3.44" fill="#00ffed"/><rect x="363.11" y="228.06" width="3.97" height="3.44" fill="#00fff3"/><rect x="367.08" y="228.06" width="3.97" height="3.44" fill="#00fff9"/><rect x="371.05" y="228.06" width="7.94" height="3.44" fill="#00fffd"/><rect x="378.99" y="228.06" width="3.97" height="3.44" fill="#00f8ff"/><rect x="152.7" y="231.5" width="27.79" height="3.44" fill="#00ffb6"/><rect x="188.43" y="231.5" width="123.07" height="3.44" fill="#00ffb9"/><rect x="311.5" y="231.5" width="7.94" height="3.44" fill="#00ffbd"/><rect x="319.44" y="231.5" width="7.94" height="3.44" fill="#00ffc1"/><rect x="327.38" y="231.5" width="7.94" height="3.44" fill="#00ffc6"/><rect x="335.32" y="231.5" width="3.97" height="3.44" fill="#00ffce"/><rect x="339.29" y="231.5" width="3.97" height="3.44" fill="#00ffd2"/><rect x="343.26" y="231.5" width="3.97" height="3.44" fill="#00ffd6"/><rect x="347.23" y="231.5" width="3.97" height="3.44" fill="#00ffda"/><rect x="351.2" y="231.5" width="3.97" height="3.44" fill="#00ffdf"/><rect x="355.17" y="231.5" width="3.97" height="3.44" fill="#00ffe5"/><rect x="359.14" y="231.5" width="3.97" height="3.44" fill="#00ffeb"/><rect x="363.11" y="231.5" width="3.97" height="3.44" fill="#00fff1"/><rect x="367.08" y="231.5" width="3.97" height="3.44" fill="#00fff7"/><rect x="371.05" y="231.5" width="3.97" height="3.44" fill="#00fffb"/><rect x="375.02" y="231.5" width="3.97" height="3.44" fill="#00ffff"/><rect x="156.67" y="234.94" width="23.82" height="3.44" fill="#00ffb4"/><rect x="188.43" y="234.94" width="123.07" height="3.44" fill="#00ffb6"/><rect x="311.5" y="234.94" width="7.94" height="3.44" fill="#00ffbb"/><rect x="319.44" y="234.94" width="7.94" height="3.44" fill="#00ffc0"/><rect x="327.38" y="234.94" width="3.97" height="3.44" fill="#00ffc5"/><rect x="331.35" y="234.94" width="3.97" height="3.44" fill="#00ffc9"/><rect x="335.32" y="234.94" width="3.97" height="3.44" fill="#00ffcd"/><rect x="339.29" y="234.94" width="3.97" height="3.44" fill="#00ffd1"/><rect x="343.26" y="234.94" width="3.97" height="3.44" fill="#00ffd5"/><rect x="347.23" y="234.94" width="3.97" height="3.44" fill="#00ffd9"/><rect x="351.2" y="234.94" width="3.97" height="3.44" fill="#00ffde"/><rect x="355.17" y="234.94" width="3.97" height="3.44" fill="#00ffe4"/><rect x="359.14" y="234.94" width="3.97" height="3.44" fill="#00ffea"/><rect x="363.11" y="234.94" width="3.97" height="3.44" fill="#00ffef"/><rect x="367.08" y="234.94" width="3.97" height="3.44" fill="#00fff5"/><rect x="371.05" y="234.94" width="3.97" height="3.44" fill="#00fff9"/><rect x="375.02" y="234.94" width="3.97" height="3.44" fill="#00fffd"/><rect x="160.64" y="238.38" width="127.04" height="3.44" fill="#00ffb1"/><rect x="287.68" y="238.38" width="23.82" height="3.44" fill="#00ffb5"/><rect x="311.5" y="238.38" width="7.94" height="3.44" fill="#00ffba"/><rect x="319.44" y="238.38" width="7.94" height="3.44" fill="#00ffbf"/><rect x="327.38" y="238.38" width="3.97" height="3.44" fill="#00ffc4"/><rect x="331.35" y="238.38" width="3.97" height="3.44" fill="#00ffc8"/><rect x="335.32" y="238.38" width="3.97" height="3.44" fill="#00ffcc"/><rect x="339.29" y="238.38" width="3.97" height="3.44" fill="#00ffd0"/><rect x="343.26" y="238.38" width="3.97" height="3.44" fill="#00ffd4"/><rect x="347.23" y="238.38" width="3.97" height="3.44" fill="#00ffd8"/><rect x="351.2" y="238.38" width="3.97" height="3.44" fill="#00ffdd"/><rect x="355.17" y="238.38" width="3.97" height="3.44" fill="#00ffe3"/><rect x="359.14" y="238.38" width="3.97" height="3.44" fill="#00ffe8"/><rect x="363.11" y="238.38" width="3.97" height="3.44" fill="#00ffee"/><rect x="367.08" y="238.38" width="3.97" height="3.44" fill="#00fff3"/><rect x="371.05" y="238.38" width="3.97" height="3.44" fill="#00fff7"/><rect x="164.61" y="241.82" width="127.04" height="3.44" fill="#00ffaf"/><rect x="291.65" y="241.82" width="19.85" height="3.44" fill="#00ffb3"/><rect x="311.5" y="241.82" width="7.94" height="3.44" fill="#00ffb8"/><rect x="319.44" y="241.82" width="7.94" height="3.44" fill="#00ffbe"/><rect x="327.38" y="241.82" width="3.97" height="3.44" fill="#00ffc3"/><rect x="331.35" y="241.82" width="3.97" height="3.44" fill="#00ffc7"/><rect x="335.32" y="241.82" width="3.97" height="3.44" fill="#00ffcb"/><rect x="339.29" y="241.82" width="3.97" height="3.44" fill="#00ffcf"/><rect x="343.26" y="241.82" width="3.97" height="3.44" fill="#00ffd3"/><rect x="347.23" y="241.82" width="3.97" height="3.44" fill="#00ffd7"/><rect x="351.2" y="241.82" width="3.97" height="3.44" fill="#00ffdc"/><rect x="355.17" y="241.82" width="3.97" height="3.44" fill="#00ffe2"/><rect x="359.14" y="241.82" width="3.97" height="3.44" fill="#00ffe7"/><rect x="363.11" y="241.82" width="3.97" height="3.44" fill="#00ffec"/><rect x="367.08" y="241.82" width="3.97" height="3.44" fill="#00fff2"/><rect x="371.05" y="241.82" width="3.97" height="3.44" fill="#00fff6"/><rect x="168.58" y="245.26" width="115.13" height="3.44" fill="#00ffab"/><rect x="283.71" y="245.26" width="19.85" height="3.44" fill="#00ffaf"/><rect x="303.56" y="245.26" width="7.94" height="3.44" fill="#00ffb3"/><rect x="311.5" y="245.26" width="7.94" height="3.44" fill="#00ffb7"/><rect x="319.44" y="245.26" width="7.94" height="3.44" fill="#00ffbc"/><rect x="327.38" y="245.26" width="3.97" height="3.44" fill="#00ffc2"/><rect x="331.35" y="245.26" width="3.97" height="3.44" fill="#00ffc6"/><rect x="335.32" y="245.26" width="3.97" height="3.44" fill="#00ffca"/><rect x="339.29" y="245.26" width="3.97" height="3.44" fill="#00ffce"/><rect x="343.26" y="245.26" width="3.97" height="3.44" fill="#00ffd2"/><rect x="347.23" y="245.26" width="3.97" height="3.44" fill="#00ffd6"/><rect x="351.2" y="245.26" width="3.97" height="3.44" fill="#00ffdb"/><rect x="355.17" y="245.26" width="3.97" height="3.44" fill="#00ffe0"/><rect x="359.14" y="245.26" width="3.97" height="3.44" fill="#00ffe6"/><rect x="363.11" y="245.26" width="3.97" height="3.44" fill="#00ffeb"/><rect x="367.08" y="245.26" width="3.97" height="3.44" fill="#00fff0"/><rect x="371.05" y="245.26" width="3.97" height="3.44" fill="#00fff4"/><rect x="172.55" y="248.7" width="111.16" height="3.44" fill="#00ffa8"/><rect x="283.71" y="248.7" width="15.88" height="3.44" fill="#00ffac"/><rect x="299.59" y="248.7" width="11.91" height="3.44" fill="#00ffb0"/><rect x="311.5" y="248.7" width="7.94" height="3.44" fill="#00ffb5"/><rect x="319.44" y="248.7" width="7.94" height="3.44" fill="#00ffbb"/><rect x="327.38" y="248.7" width="3.97" height="3.44" fill="#00ffc1"/><rect x="331.35" y="248.7" width="3.97" height="3.44" fill="#00ffc5"/><rect x="335.32" y="248.7" width="3.97" height="3.44" fill="#00ffc9"/><rect x="339.29" y="248.7" width="3.97" height="3.44" fill="#00ffcd"/><rect x="343.26" y="248.7" width="3.97" height="3.44" fill="#00ffd1"/><rect x="347.23" y="248.7" width="3.97" height="3.44" fill="#00ffd5"/><rect x="351.2" y="248.7" width="3.97" height="3.44" fill="#00ffda"/><rect x="355.17" y="248.7" width="3.97" height="3.44" fill="#00ffdf"/><rect x="359.14" y="248.7" width="3.97" height="3.44" fill="#00ffe4"/><rect x="363.11" y="248.7" width="3.97" height="3.44" fill="#00ffe9"/><rect x="367.08" y="248.7" width="3.97" height="3.44" fill="#00ffee"/><rect x="176.52" y="252.14" width="51.61" height="3.44" fill="#00ffa6"/><rect x="228.13" y="252.14" width="43.67" height="3.44" fill="#00ffa2"/><rect x="271.8" y="252.14" width="11.91" height="3.44" fill="#00ffa6"/><rect x="283.71" y="252.14" width="11.91" height="3.44" fill="#00ffaa"/><rect x="295.62" y="252.14" width="15.88" height="3.44" fill="#00ffae"/><rect x="311.5" y="252.14" width="7.94" height="3.44" fill="#00ffb4"/><rect x="319.44" y="252.14" width="7.94" height="3.44" fill="#00ffba"/><rect x="327.38" y="252.14" width="3.97" height="3.44" fill="#00ffc0"/><rect x="331.35" y="252.14" width="3.97" height="3.44" fill="#00ffc4"/><rect x="335.32" y="252.14" width="3.97" height="3.44" fill="#00ffc9"/><rect x="339.29" y="252.14" width="3.97" height="3.44" fill="#00ffcd"/><rect x="343.26" y="252.14" width="3.97" height="3.44" fill="#00ffd1"/><rect x="347.23" y="252.14" width="3.97" height="3.44" fill="#00ffd5"/><rect x="351.2" y="252.14" width="3.97" height="3.44" fill="#00ffda"/><rect x="355.17" y="252.14" width="3.97" height="3.44" fill="#00ffdf"/><rect x="359.14" y="252.14" width="3.97" height="3.44" fill="#00ffe4"/><rect x="363.11" y="252.14" width="3.97" height="3.44" fill="#00ffe9"/><rect x="367.08" y="252.14" width="3.97" height="3.44" fill="#00ffee"/><rect x="184.46" y="255.58" width="23.82" height="3.44" fill="#00ffa3"/><rect x="208.28" y="255.58" width="59.55" height="3.44" fill="#00ff9f"/><rect x="267.83" y="255.58" width="11.91" height="3.44" fill="#00ffa3"/><rect x="279.74" y="255.58" width="11.91" height="3.44" fill="#00ffa7"/><rect x="291.65" y="255.58" width="11.91" height="3.44" fill="#00ffab"/><rect x="303.56" y="255.58" width="7.94" height="3.44" fill="#00ffaf"/><rect x="311.5" y="255.58" width="7.94" height="3.44" fill="#00ffb3"/><rect x="319.44" y="255.58" width="7.94" height="3.44" fill="#00ffb9"/><rect x="327.38" y="255.58" width="3.97" height="3.44" fill="#00ffbf"/><rect x="331.35" y="255.58" width="3.97" height="3.44" fill="#00ffc4"/><rect x="335.32" y="255.58" width="3.97" height="3.44" fill="#00ffc8"/><rect x="339.29" y="255.58" width="3.97" height="3.44" fill="#00ffcc"/><rect x="343.26" y="255.58" width="3.97" height="3.44" fill="#00ffd1"/><rect x="347.23" y="255.58" width="3.97" height="3.44" fill="#00ffd5"/><rect x="351.2" y="255.58" width="3.97" height="3.44" fill="#00ffda"/><rect x="355.17" y="255.58" width="3.97" height="3.44" fill="#00ffdf"/><rect x="359.14" y="255.58" width="3.97" height="3.44" fill="#00ffe3"/><rect x="363.11" y="255.58" width="3.97" height="3.44" fill="#00ffe8"/><rect x="367.08" y="255.58" width="3.97" height="3.44" fill="#00ffed"/><rect x="188.43" y="259.02" width="15.88" height="3.44" fill="#00ffa0"/><rect x="204.31" y="259.02" width="19.85" height="3.44" fill="#00ff9c"/><rect x="224.16" y="259.02" width="27.79" height="3.44" fill="#00ff98"/><rect x="251.95" y="259.02" width="15.88" height="3.44" fill="#00ff9c"/><rect x="267.83" y="259.02" width="11.91" height="3.44" fill="#00ffa0"/><rect x="279.74" y="259.02" width="11.91" height="3.44" fill="#00ffa5"/><rect x="291.65" y="259.02" width="11.91" height="3.44" fill="#00ffa9"/><rect x="303.56" y="259.02" width="7.94" height="3.44" fill="#00ffae"/><rect x="311.5" y="259.02" width="7.94" height="3.44" fill="#00ffb2"/><rect x="319.44" y="259.02" width="7.94" height="3.44" fill="#00ffb9"/><rect x="327.38" y="259.02" width="3.97" height="3.44" fill="#00ffbf"/><rect x="331.35" y="259.02" width="3.97" height="3.44" fill="#00ffc3"/><rect x="335.32" y="259.02" width="3.97" height="3.44" fill="#00ffc8"/><rect x="339.29" y="259.02" width="3.97" height="3.44" fill="#00ffcc"/><rect x="343.26" y="259.02" width="3.97" height="3.44" fill="#00ffd1"/><rect x="347.23" y="259.02" width="3.97" height="3.44" fill="#00ffd5"/><rect x="351.2" y="259.02" width="3.97" height="3.44" fill="#00ffda"/><rect x="355.17" y="259.02" width="3.97" height="3.44" fill="#00ffde"/><rect x="359.14" y="259.02" width="3.97" height="3.44" fill="#00ffe3"/><rect x="363.11" y="259.02" width="3.97" height="3.44" fill="#00ffe7"/><rect x="192.4" y="262.46" width="11.91" height="3.44" fill="#00ff9c"/><rect x="204.31" y="262.46" width="15.88" height="3.44" fill="#00ff98"/><rect x="220.19" y="262.46" width="31.76" height="3.44" fill="#00ff94"/><rect x="251.95" y="262.46" width="11.91" height="3.44" fill="#00ff98"/><rect x="263.86" y="262.46" width="11.91" height="3.44" fill="#00ff9c"/><rect x="275.77" y="262.46" width="11.91" height="3.44" fill="#00ffa1"/><rect x="287.68" y="262.46" width="11.91" height="3.44" fill="#00ffa6"/><rect x="299.59" y="262.46" width="7.94" height="3.44" fill="#00ffab"/><rect x="307.53" y="262.46" width="7.94" height="3.44" fill="#00ffaf"/><rect x="315.47" y="262.46" width="7.94" height="3.44" fill="#00ffb5"/><rect x="323.41" y="262.46" width="7.94" height="3.44" fill="#00ffbb"/><rect x="331.35" y="262.46" width="3.97" height="3.44" fill="#00ffc2"/><rect x="335.32" y="262.46" width="3.97" height="3.44" fill="#00ffc7"/><rect x="339.29" y="262.46" width="3.97" height="3.44" fill="#00ffcc"/><rect x="343.26" y="262.46" width="3.97" height="3.44" fill="#00ffd0"/><rect x="347.23" y="262.46" width="3.97" height="3.44" fill="#00ffd5"/><rect x="351.2" y="262.46" width="3.97" height="3.44" fill="#00ffda"/><rect x="355.17" y="262.46" width="3.97" height="3.44" fill="#00ffde"/><rect x="359.14" y="262.46" width="3.97" height="3.44" fill="#00ffe2"/><rect x="363.11" y="262.46" width="3.97" height="3.44" fill="#00ffe7"/><rect x="196.37" y="265.9" width="7.94" height="3.44" fill="#00ff97"/><rect x="204.31" y="265.9" width="15.88" height="3.44" fill="#00ff93"/><rect x="220.19" y="265.9" width="31.76" height="3.44" fill="#00ff8f"/><rect x="251.95" y="265.9" width="11.91" height="3.44" fill="#00ff94"/><rect x="263.86" y="265.9" width="7.94" height="3.44" fill="#00ff99"/><rect x="271.8" y="265.9" width="11.91" height="3.44" fill="#00ff9d"/><rect x="283.71" y="265.9" width="7.94" height="3.44" fill="#00ffa2"/><rect x="291.65" y="265.9" width="7.94" height="3.44" fill="#00ffa6"/><rect x="299.59" y="265.9" width="7.94" height="3.44" fill="#00ffaa"/><rect x="307.53" y="265.9" width="7.94" height="3.44" fill="#00ffae"/><rect x="359.14" y="265.9" width="3.97" height="3.44" fill="#00ffe2"/><rect x="363.11" y="265.9" width="3.97" height="3.44" fill="#00ffe6"/><rect x="200.34" y="269.34" width="7.94" height="3.44" fill="#00ff92"/><rect x="208.28" y="269.34" width="15.88" height="3.44" fill="#00ff8e"/><rect x="224.16" y="269.34" width="23.82" height="3.44" fill="#00ff8a"/><rect x="247.98" y="269.34" width="7.94" height="3.44" fill="#00ff8e"/><rect x="255.92" y="269.34" width="7.94" height="3.44" fill="#00ff92"/><rect x="263.86" y="269.34" width="7.94" height="3.44" fill="#00ff96"/><rect x="271.8" y="269.34" width="7.94" height="3.44" fill="#00ff9a"/><rect x="279.74" y="269.34" width="7.94" height="3.44" fill="#00ff9f"/><rect x="287.68" y="269.34" width="7.94" height="3.44" fill="#00ffa3"/><rect x="295.62" y="269.34" width="3.97" height="3.44" fill="#00ffa7"/><rect x="204.31" y="272.78" width="11.91" height="3.44" fill="#00ff8e"/><rect x="216.22" y="272.78" width="11.91" height="3.44" fill="#00ff8a"/><rect x="228.13" y="272.78" width="15.88" height="3.44" fill="#00ff86"/><rect x="244.01" y="272.78" width="7.94" height="3.44" fill="#00ff8a"/><rect x="251.95" y="272.78" width="7.94" height="3.44" fill="#00ff8e"/><rect x="259.89" y="272.78" width="7.94" height="3.44" fill="#00ff92"/><rect x="267.83" y="272.78" width="7.94" height="3.44" fill="#00ff97"/><rect x="275.77" y="272.78" width="7.94" height="3.44" fill="#00ff9c"/><rect x="283.71" y="272.78" width="3.97" height="3.44" fill="#00ffa1"/><rect x="208.28" y="276.22" width="11.91" height="3.44" fill="#00ff8b"/><rect x="220.19" y="276.22" width="31.76" height="3.44" fill="#00ff86"/><rect x="251.95" y="276.22" width="7.94" height="3.44" fill="#00ff8b"/><rect x="259.89" y="276.22" width="7.94" height="3.44" fill="#00ff90"/><rect x="267.83" y="276.22" width="7.94" height="3.44" fill="#00ff95"/><rect x="275.77" y="276.22" width="3.97" height="3.44" fill="#00ff9a"/><rect x="212.25" y="279.66" width="11.91" height="3.44" fill="#00ff87"/><rect x="224.16" y="279.66" width="27.79" height="3.44" fill="#00ff83"/><rect x="251.95" y="279.66" width="7.94" height="3.44" fill="#00ff89"/><rect x="259.89" y="279.66" width="7.94" height="3.44" fill="#00ff8e"/><rect x="267.83" y="279.66" width="3.97" height="3.44" fill="#00ff93"/><rect x="216.22" y="283.1" width="7.94" height="3.44" fill="#00ff84"/><rect x="224.16" y="283.1" width="27.79" height="3.44" fill="#00ff80"/><rect x="251.95" y="283.1" width="7.94" height="3.44" fill="#00ff86"/><rect x="259.89" y="283.1" width="7.94" height="3.44" fill="#00ff8c"/><rect x="220.19" y="286.54" width="7.94" height="3.44" fill="#00ff80"/><rect x="228.13" y="286.54" width="15.88" height="3.44" fill="#00ff7c"/><rect x="244.01" y="286.54" width="7.94" height="3.44" fill="#00ff80"/><rect x="251.95" y="286.54" width="7.94" height="3.44" fill="#00ff84"/><rect x="259.89" y="286.54" width="3.97" height="3.44" fill="#00ff8a"/><rect x="224.16" y="289.98" width="27.79" height="3.44" fill="#00ff7c"/><rect x="251.95" y="289.98" width="7.94" height="3.44" fill="#00ff83"/><rect x="228.13" y="293.42" width="15.88" height="3.44" fill="#00ff7a"/><rect x="244.01" y="293.42" width="7.94" height="3.44" fill="#00ff7e"/><rect x="232.1" y="296.86" width="15.88" height="3.44" fill="#00ff7b"/><rect x="240.04" y="300.3" width="3.97" height="3.44" fill="#00ff7d"/><rect x="220" y="156" width="4" height="3.4" fill="#0050ff"/></g>
<rect x="80.0" y="34.0" width="357.0" height="343.5" fill="none" stroke="#111" stroke-width="1.6"/>
<path d="M99.40 377.50V383.80M99.40 34.00V40.30M139.12 377.50V383.80M139.12 34.00V40.30M178.84 377.50V383.80M178.84 34.00V40.30M218.56 377.50V383.80M218.56 34.00V40.30M258.28 377.50V383.80M258.28 34.00V40.30M298.00 377.50V383.80M298.00 34.00V40.30M337.72 377.50V383.80M337.72 34.00V40.30M377.44 377.50V383.80M377.44 34.00V40.30M417.16 377.50V383.80M417.16 34.00V40.30M80.00 377.50H73.20M437.00 377.50H430.50M80.00 343.15H73.20M437.00 343.15H430.50M80.00 308.80H73.20M437.00 308.80H430.50M80.00 274.45H73.20M437.00 274.45H430.50M80.00 240.10H73.20M437.00 240.10H430.50M80.00 205.75H73.20M437.00 205.75H430.50M80.00 171.40H73.20M437.00 171.40H430.50M80.00 137.05H73.20M437.00 137.05H430.50M80.00 102.70H73.20M437.00 102.70H430.50M80.00 68.35H73.20M437.00 68.35H430.50M80.00 34.00H73.20M437.00 34.00H430.50" stroke="#111" stroke-width="1.5" fill="none"/>
<g font-size="14.6" fill="#111" stroke="#111"><text x="99.40" y="400.3" text-anchor="middle">-1200</text><text x="139.12" y="400.3" text-anchor="middle">-1000</text><text x="178.84" y="400.3" text-anchor="middle">-800</text><text x="218.56" y="400.3" text-anchor="middle">-600</text><text x="258.28" y="400.3" text-anchor="middle">-400</text><text x="298.00" y="400.3" text-anchor="middle">-200</text><text x="337.72" y="400.3" text-anchor="middle">0</text><text x="377.44" y="400.3" text-anchor="middle">200</text><text x="417.16" y="400.3" text-anchor="middle">400</text><text x="68.3" y="382.50" text-anchor="end">0</text><text x="68.3" y="348.15" text-anchor="end">200</text><text x="68.3" y="313.80" text-anchor="end">400</text><text x="68.3" y="279.45" text-anchor="end">600</text><text x="68.3" y="245.10" text-anchor="end">800</text><text x="68.3" y="210.75" text-anchor="end">1000</text><text x="68.3" y="176.40" text-anchor="end">1200</text><text x="68.3" y="142.05" text-anchor="end">1400</text><text x="68.3" y="107.70" text-anchor="end">1600</text><text x="68.3" y="73.35" text-anchor="end">1800</text><text x="68.3" y="39.00" text-anchor="end">2000</text></g>
<text x="258.5" y="428.3" font-size="17.8" text-anchor="middle" fill="#111" stroke="#111">Zonal direction (m)</text>
<text transform="translate(27 183.3) rotate(-90)" font-size="17.9" text-anchor="middle" fill="#111" stroke="#111">Meridional direction (m)</text>
<text x="493.6" y="23.7" font-size="16.5" text-anchor="middle" fill="#111" stroke="#111" transform="translate(493.3 0) scale(1.08 1) translate(-493.3 0)">speed(m/s)</text>
<rect x="476.4" y="37.4" width="25.6" height="336.2" fill="url(#cb)" stroke="#222" stroke-width="1"/>
<path d="M502.00 37.40H508.00M502.00 71.02H508.00M502.00 104.64H508.00M502.00 138.26H508.00M502.00 171.88H508.00M502.00 205.50H508.00M502.00 239.12H508.00M502.00 272.74H508.00M502.00 306.36H508.00M502.00 339.98H508.00M502.00 373.60H508.00" stroke="#222" stroke-width="1.2"/>
<g font-size="10" fill="#222" stroke="#222" style="stroke-width:0.2px"><text x="511.6" y="41.40">20.00</text><text x="511.6" y="75.02">18.00</text><text x="511.6" y="108.64">16.00</text><text x="511.6" y="142.26">14.00</text><text x="511.6" y="175.88">12.00</text><text x="511.6" y="209.50">10.00</text><text x="511.6" y="243.12">8.000</text><text x="511.6" y="276.74">6.000</text><text x="511.6" y="310.36">4.000</text><text x="511.6" y="343.98">2.000</text><text x="511.6" y="377.60">0.000</text></g>
<g><circle cx="172.0" cy="158.0" r="8.6" fill="#efefef" stroke="#777" stroke-width="0.9"/><path d="M172.0 151.0V166.3M172.0 155.5L167.0 159.2M172.0 155.5L177.0 159.2" stroke="#888" stroke-width="1" fill="none"/></g><g><circle cx="228.4" cy="169.0" r="8.6" fill="#efefef" stroke="#777" stroke-width="0.9"/><path d="M228.4 162.0V177.3M228.4 166.5L223.4 170.2M228.4 166.5L233.4 170.2" stroke="#888" stroke-width="1" fill="none"/></g><g><circle cx="286.4" cy="170.7" r="8.6" fill="#efefef" stroke="#777" stroke-width="0.9"/><path d="M286.4 163.7V179.0M286.4 168.2L281.4 171.9M286.4 168.2L291.4 171.9" stroke="#888" stroke-width="1" fill="none"/></g><g><circle cx="339.2" cy="175.7" r="8.6" fill="#efefef" stroke="#777" stroke-width="0.9"/><path d="M339.2 168.7V184.0M339.2 173.2L334.2 176.9M339.2 173.2L344.2 176.9" stroke="#888" stroke-width="1" fill="none"/></g>
<g fill="#111" font-size="12.3" stroke="#111">
<text x="161.5" y="146">T10-1</text>
<text x="217.5" y="158.6">T10-2</text>
<text x="273.2" y="160.8">T10-3</text>
<text x="328" y="165.3">T10-4</text>
</g>
<g stroke="#111" stroke-width="1.3" fill="#111">
<path d="M237 173.4L266 181.8"/><path d="M270.5 183.1L264.5 183.5L266.1 178.8Z" stroke-width="0.5"/>
<path d="M294 174.6L318 182.6"/><path d="M322.3 184L316.3 184.5L317.8 179.8Z" stroke-width="0.5"/>
<path d="M346.2 179.8L376.5 191.8"/><path d="M380.6 193.6L374.6 193.6L376.4 189Z" stroke-width="0.5"/>
</g>
<g stroke="#e02020" fill="#e02020" stroke-width="1.4">
<path d="M188.3 98L157.5 212.5"/>
<path d="M188.3 96.5L185.3 103.5L190.8 104.2Z" stroke-width="0.5"/>
<path d="M184.8 111.5H189M180.6 127.5H184.8M176.3 143.5H180.5M169 172.5H172.5M165 187.5H168.5M161.3 201H164.8" stroke-width="1.1"/>
<path d="M172 158L223 168.6"/>
<path d="M228.5 169.7L222.4 171.3L223.5 166.2Z" stroke-width="0.5"/>
<path d="M186.9 154.8V159.8M201.7 157.8V162.9M216.4 160.9V165.9" stroke-width="1.3"/>
</g>
<g fill="#cc2424" font-size="13.9" stroke="#cc2424" style="stroke-width:0.45px">
<text transform="translate(171 182) rotate(13.5)">Downstream</text>
<text transform="translate(170.5 198) rotate(13.5)">distance (<tspan font-style="italic">D</tspan>)</text>
<text transform="translate(142.4 200.3) rotate(-77)" font-size="14" letter-spacing="0.25">Radial distance (<tspan font-style="italic">D</tspan>)</text>
</g>
<g fill="#cc2424" font-size="11.5" font-style="italic" stroke="#cc2424" style="stroke-width:0.4px">
<text x="163" y="158.5">0</text>
<text x="173" y="114.5">3</text>
<text x="170" y="128.5">2</text>
<text x="180.5" y="170.5">1</text>
<text x="195.5" y="176.5">2</text>
<text x="210" y="179">3</text>
<text x="154.5" y="173">-1</text>
<text x="150.5" y="189">-2</text>
<text x="145.5" y="204.5">-3</text>
</g>
</svg>
</body></html>
